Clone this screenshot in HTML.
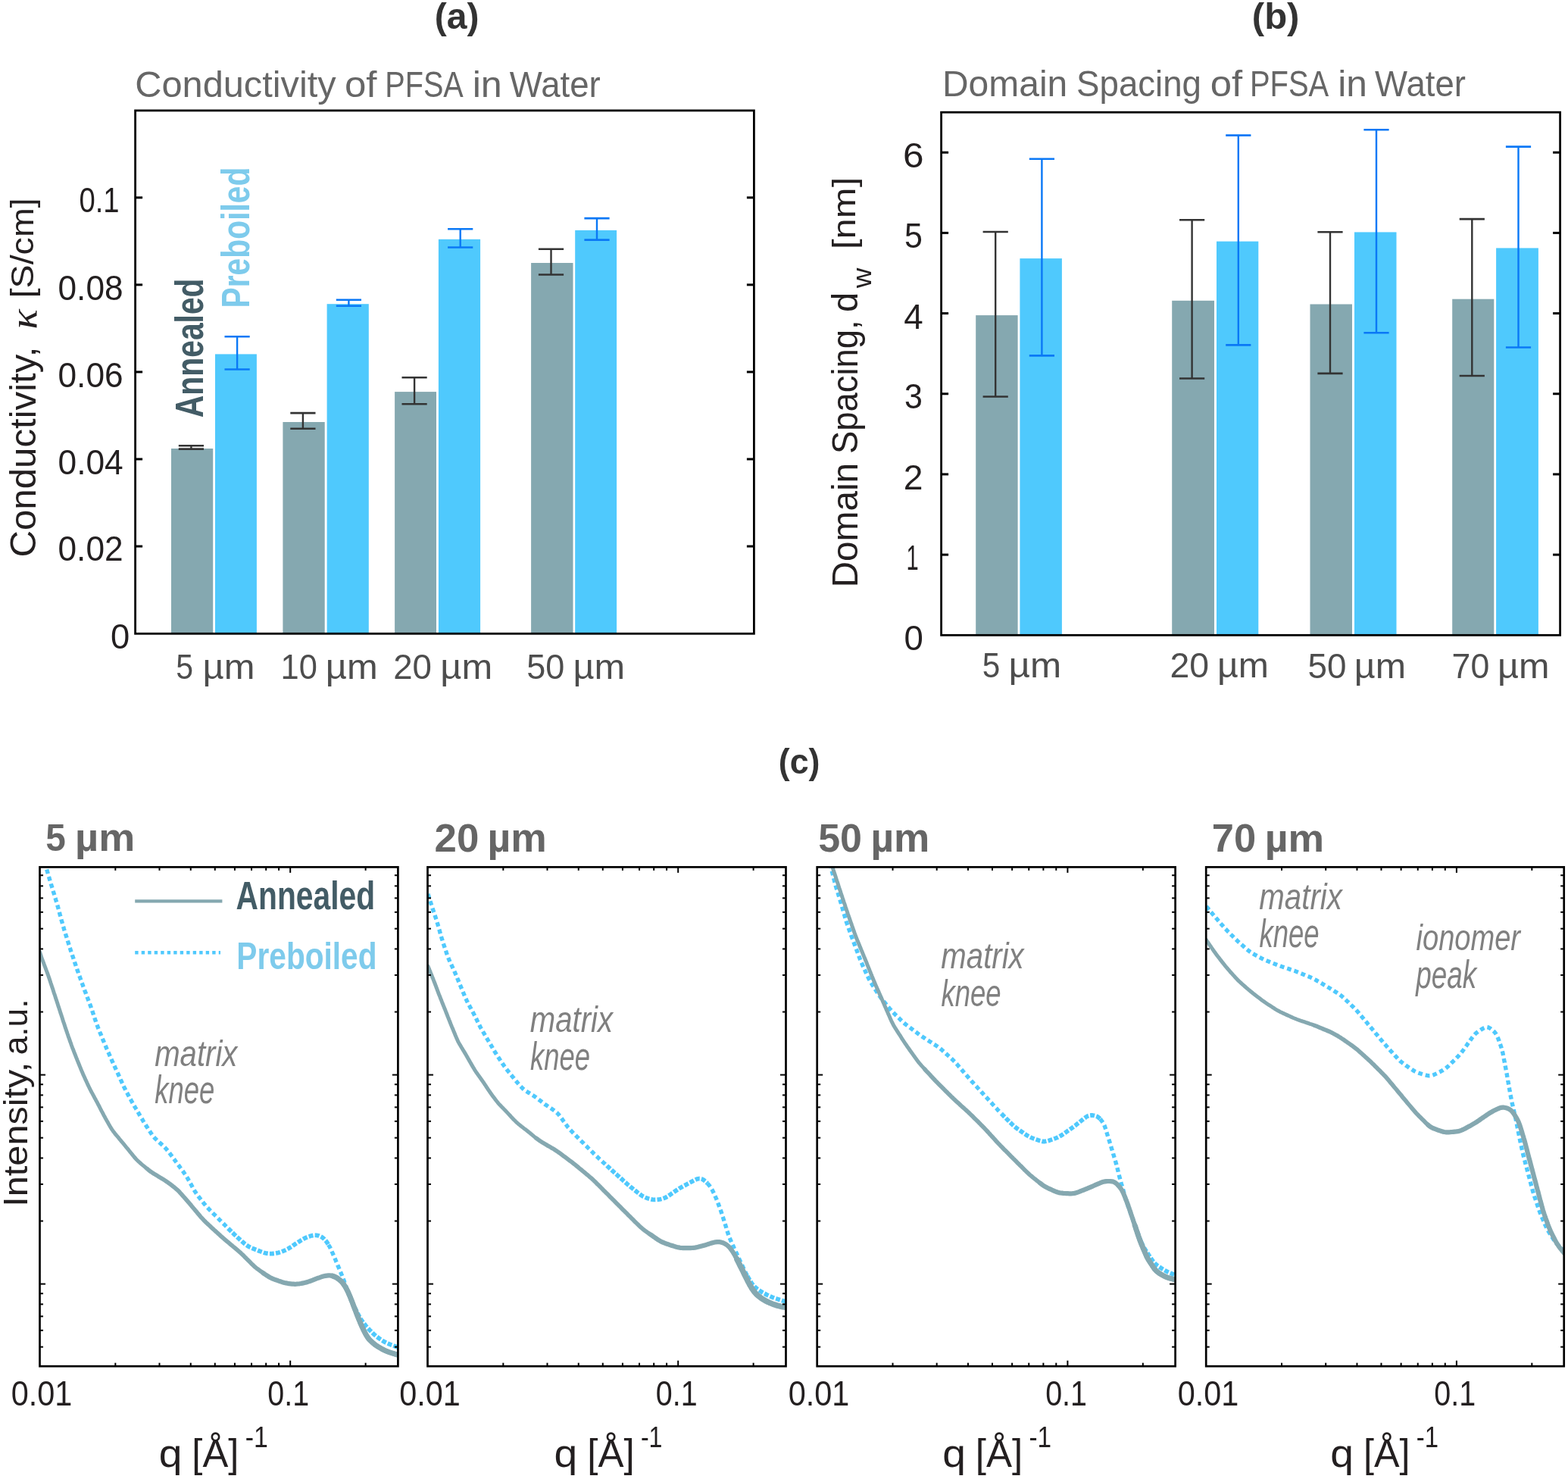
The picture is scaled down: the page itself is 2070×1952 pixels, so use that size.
<!DOCTYPE html>
<html><head><meta charset="utf-8"><title>PFSA figure</title>
<style>html,body{margin:0;padding:0;background:#fff;}svg{display:block;}text{font-kerning:normal;}</style></head><body>
<svg width="2070" height="1952" viewBox="0 0 2070 1952">
<rect x="0" y="0" width="2070" height="1952" fill="#ffffff"/>
<rect x="226" y="592" width="55.2" height="244.3" fill="#85a8b0"/>
<rect x="284" y="467.4" width="54.9" height="368.9" fill="#4fc9fd"/>
<rect x="373.4" y="557" width="55.3" height="279.3" fill="#85a8b0"/>
<rect x="431.6" y="401.2" width="55.2" height="435.1" fill="#4fc9fd"/>
<rect x="521.1" y="517.1" width="54.9" height="319.2" fill="#85a8b0"/>
<rect x="578.9" y="315.8" width="55.2" height="520.5" fill="#4fc9fd"/>
<rect x="701.1" y="347" width="55.4" height="489.3" fill="#85a8b0"/>
<rect x="759.2" y="303.9" width="54.9" height="532.4" fill="#4fc9fd"/>
<line x1="252.4" y1="588.2" x2="252.4" y2="592.6" stroke="#333333" stroke-width="2.4"/>
<line x1="235.8" y1="588.2" x2="269" y2="588.2" stroke="#333333" stroke-width="2.6"/>
<line x1="235.8" y1="592.6" x2="269" y2="592.6" stroke="#333333" stroke-width="2.6"/>
<line x1="313.1" y1="444.2" x2="313.1" y2="487.5" stroke="#0a78f6" stroke-width="2.4"/>
<line x1="296.5" y1="444.2" x2="329.7" y2="444.2" stroke="#0a78f6" stroke-width="2.6"/>
<line x1="296.5" y1="487.5" x2="329.7" y2="487.5" stroke="#0a78f6" stroke-width="2.6"/>
<line x1="399.9" y1="545.1" x2="399.9" y2="565.8" stroke="#333333" stroke-width="2.4"/>
<line x1="383.3" y1="545.1" x2="416.5" y2="545.1" stroke="#333333" stroke-width="2.6"/>
<line x1="383.3" y1="565.8" x2="416.5" y2="565.8" stroke="#333333" stroke-width="2.6"/>
<line x1="460.4" y1="395.8" x2="460.4" y2="403.7" stroke="#0a78f6" stroke-width="2.4"/>
<line x1="443.8" y1="395.8" x2="477" y2="395.8" stroke="#0a78f6" stroke-width="2.6"/>
<line x1="443.8" y1="403.7" x2="477" y2="403.7" stroke="#0a78f6" stroke-width="2.6"/>
<line x1="547.1" y1="498.3" x2="547.1" y2="533.3" stroke="#333333" stroke-width="2.4"/>
<line x1="530.5" y1="498.3" x2="563.7" y2="498.3" stroke="#333333" stroke-width="2.6"/>
<line x1="530.5" y1="533.3" x2="563.7" y2="533.3" stroke="#333333" stroke-width="2.6"/>
<line x1="607.7" y1="302.2" x2="607.7" y2="326.5" stroke="#0a78f6" stroke-width="2.4"/>
<line x1="591.1" y1="302.2" x2="624.3" y2="302.2" stroke="#0a78f6" stroke-width="2.6"/>
<line x1="591.1" y1="326.5" x2="624.3" y2="326.5" stroke="#0a78f6" stroke-width="2.6"/>
<line x1="727.5" y1="328.7" x2="727.5" y2="362.5" stroke="#333333" stroke-width="2.4"/>
<line x1="710.9" y1="328.7" x2="744.1" y2="328.7" stroke="#333333" stroke-width="2.6"/>
<line x1="710.9" y1="362.5" x2="744.1" y2="362.5" stroke="#333333" stroke-width="2.6"/>
<line x1="788" y1="288.1" x2="788" y2="316.6" stroke="#0a78f6" stroke-width="2.4"/>
<line x1="771.4" y1="288.1" x2="804.6" y2="288.1" stroke="#0a78f6" stroke-width="2.6"/>
<line x1="771.4" y1="316.6" x2="804.6" y2="316.6" stroke="#0a78f6" stroke-width="2.6"/>
<line x1="178.6" y1="721.04" x2="188.1" y2="721.04" stroke="#000000" stroke-width="3"/>
<line x1="985.9" y1="721.04" x2="995.4" y2="721.04" stroke="#000000" stroke-width="3"/>
<line x1="178.6" y1="605.98" x2="188.1" y2="605.98" stroke="#000000" stroke-width="3"/>
<line x1="985.9" y1="605.98" x2="995.4" y2="605.98" stroke="#000000" stroke-width="3"/>
<line x1="178.6" y1="490.92" x2="188.1" y2="490.92" stroke="#000000" stroke-width="3"/>
<line x1="985.9" y1="490.92" x2="995.4" y2="490.92" stroke="#000000" stroke-width="3"/>
<line x1="178.6" y1="375.86" x2="188.1" y2="375.86" stroke="#000000" stroke-width="3"/>
<line x1="985.9" y1="375.86" x2="995.4" y2="375.86" stroke="#000000" stroke-width="3"/>
<line x1="178.6" y1="260.8" x2="188.1" y2="260.8" stroke="#000000" stroke-width="3"/>
<line x1="985.9" y1="260.8" x2="995.4" y2="260.8" stroke="#000000" stroke-width="3"/>
<rect x="178.6" y="145.9" width="816.8" height="690.4" fill="none" stroke="#000000" stroke-width="2.8"/>
<rect x="1288.2" y="416.1" width="55.4" height="422.2" fill="#85a8b0"/>
<rect x="1346.4" y="341.1" width="55.5" height="497.2" fill="#4fc9fd"/>
<rect x="1547.2" y="396.8" width="55.8" height="441.5" fill="#85a8b0"/>
<rect x="1606" y="318.6" width="55.3" height="519.7" fill="#4fc9fd"/>
<rect x="1729.5" y="401.5" width="55.5" height="436.8" fill="#85a8b0"/>
<rect x="1788" y="306.4" width="55.5" height="531.9" fill="#4fc9fd"/>
<rect x="1917.2" y="394.7" width="55.1" height="443.6" fill="#85a8b0"/>
<rect x="1975.1" y="327.4" width="55.8" height="510.9" fill="#4fc9fd"/>
<line x1="1314.2" y1="306" x2="1314.2" y2="523.5" stroke="#333333" stroke-width="2.4"/>
<line x1="1297.6" y1="306" x2="1330.8" y2="306" stroke="#333333" stroke-width="2.6"/>
<line x1="1297.6" y1="523.5" x2="1330.8" y2="523.5" stroke="#333333" stroke-width="2.6"/>
<line x1="1375.4" y1="209.8" x2="1375.4" y2="469.4" stroke="#0a78f6" stroke-width="2.4"/>
<line x1="1358.8" y1="209.8" x2="1392" y2="209.8" stroke="#0a78f6" stroke-width="2.6"/>
<line x1="1358.8" y1="469.4" x2="1392" y2="469.4" stroke="#0a78f6" stroke-width="2.6"/>
<line x1="1573.6" y1="290.2" x2="1573.6" y2="499.5" stroke="#333333" stroke-width="2.4"/>
<line x1="1557" y1="290.2" x2="1590.2" y2="290.2" stroke="#333333" stroke-width="2.6"/>
<line x1="1557" y1="499.5" x2="1590.2" y2="499.5" stroke="#333333" stroke-width="2.6"/>
<line x1="1634.8" y1="178.6" x2="1634.8" y2="455.4" stroke="#0a78f6" stroke-width="2.4"/>
<line x1="1618.2" y1="178.6" x2="1651.4" y2="178.6" stroke="#0a78f6" stroke-width="2.6"/>
<line x1="1618.2" y1="455.4" x2="1651.4" y2="455.4" stroke="#0a78f6" stroke-width="2.6"/>
<line x1="1756" y1="306.2" x2="1756" y2="492.9" stroke="#333333" stroke-width="2.4"/>
<line x1="1739.4" y1="306.2" x2="1772.6" y2="306.2" stroke="#333333" stroke-width="2.6"/>
<line x1="1739.4" y1="492.9" x2="1772.6" y2="492.9" stroke="#333333" stroke-width="2.6"/>
<line x1="1817" y1="171.3" x2="1817" y2="439.2" stroke="#0a78f6" stroke-width="2.4"/>
<line x1="1800.4" y1="171.3" x2="1833.6" y2="171.3" stroke="#0a78f6" stroke-width="2.6"/>
<line x1="1800.4" y1="439.2" x2="1833.6" y2="439.2" stroke="#0a78f6" stroke-width="2.6"/>
<line x1="1943.3" y1="289.1" x2="1943.3" y2="496" stroke="#333333" stroke-width="2.4"/>
<line x1="1926.7" y1="289.1" x2="1959.9" y2="289.1" stroke="#333333" stroke-width="2.6"/>
<line x1="1926.7" y1="496" x2="1959.9" y2="496" stroke="#333333" stroke-width="2.6"/>
<line x1="2004.5" y1="193.6" x2="2004.5" y2="458.5" stroke="#0a78f6" stroke-width="2.4"/>
<line x1="1987.9" y1="193.6" x2="2021.1" y2="193.6" stroke="#0a78f6" stroke-width="2.6"/>
<line x1="1987.9" y1="458.5" x2="2021.1" y2="458.5" stroke="#0a78f6" stroke-width="2.6"/>
<line x1="1242.6" y1="732.12" x2="1252.1" y2="732.12" stroke="#000000" stroke-width="3"/>
<line x1="2050.1" y1="732.12" x2="2059.6" y2="732.12" stroke="#000000" stroke-width="3"/>
<line x1="1242.6" y1="625.94" x2="1252.1" y2="625.94" stroke="#000000" stroke-width="3"/>
<line x1="2050.1" y1="625.94" x2="2059.6" y2="625.94" stroke="#000000" stroke-width="3"/>
<line x1="1242.6" y1="519.76" x2="1252.1" y2="519.76" stroke="#000000" stroke-width="3"/>
<line x1="2050.1" y1="519.76" x2="2059.6" y2="519.76" stroke="#000000" stroke-width="3"/>
<line x1="1242.6" y1="413.58" x2="1252.1" y2="413.58" stroke="#000000" stroke-width="3"/>
<line x1="2050.1" y1="413.58" x2="2059.6" y2="413.58" stroke="#000000" stroke-width="3"/>
<line x1="1242.6" y1="307.4" x2="1252.1" y2="307.4" stroke="#000000" stroke-width="3"/>
<line x1="2050.1" y1="307.4" x2="2059.6" y2="307.4" stroke="#000000" stroke-width="3"/>
<line x1="1242.6" y1="201.22" x2="1252.1" y2="201.22" stroke="#000000" stroke-width="3"/>
<line x1="2050.1" y1="201.22" x2="2059.6" y2="201.22" stroke="#000000" stroke-width="3"/>
<rect x="1242.6" y="148.2" width="817" height="690.1" fill="none" stroke="#000000" stroke-width="2.8"/>
<clipPath id="clip0"><rect x="52.5" y="1144.4" width="472.9" height="658.8"/></clipPath>
<g clip-path="url(#clip0)" fill="none" stroke-linejoin="round">
<path d="M59.5,1138.0 L59.9,1140.0 L60.3,1141.9 L60.8,1143.9 L61.3,1145.8 L61.8,1147.7 L62.3,1149.7 L62.9,1151.6 L63.4,1153.5 L64.0,1155.4 L64.6,1157.3 L65.1,1159.3 L65.7,1161.2 L66.3,1163.1 L66.9,1165.0 L67.4,1166.9 L68.0,1168.8 L68.6,1170.8 L69.2,1172.7 L69.8,1174.6 L70.3,1176.5 L70.9,1178.4 L71.5,1180.3 L72.1,1182.2 L72.7,1184.2 L73.3,1186.1 L73.8,1188.0 L74.4,1189.9 L75.0,1191.8 L75.5,1193.7 L76.1,1195.7 L76.6,1197.6 L77.2,1199.5 L77.7,1201.4 L78.2,1203.4 L78.7,1205.3 L79.2,1207.2 L79.8,1209.2 L80.3,1211.1 L80.8,1213.0 L81.3,1215.0 L81.9,1216.9 L82.4,1218.8 L82.9,1220.8 L83.5,1222.7 L84.1,1224.6 L84.6,1226.5 L85.2,1228.4 L85.8,1230.3 L86.4,1232.2 L87.0,1234.2 L87.6,1236.1 L88.2,1238.0 L88.8,1239.9 L89.4,1241.8 L90.0,1243.7 L90.6,1245.6 L91.2,1247.5 L91.8,1249.4 L92.4,1251.3 L93.0,1253.2 L93.6,1255.1 L94.3,1257.0 L94.9,1258.9 L95.5,1260.8 L96.2,1262.7 L96.8,1264.6 L97.4,1266.5 L98.1,1268.4 L98.7,1270.3 L99.3,1272.2 L100.0,1274.1 L100.6,1276.0 L101.3,1277.9 L101.9,1279.8 L102.6,1281.7 L103.3,1283.6 L103.9,1285.4 L104.6,1287.3 L105.3,1289.2 L106.0,1291.1 L106.6,1293.0 L107.3,1294.9 L108.0,1296.7 L108.7,1298.6 L109.4,1300.5 L110.0,1302.4 L110.7,1304.3 L111.4,1306.1 L112.1,1308.0 L112.9,1309.9 L113.6,1311.7 L114.3,1313.6 L115.0,1315.5 L115.7,1317.4 L116.4,1319.2 L117.1,1321.1 L117.8,1323.0 L118.5,1324.8 L119.2,1326.7 L119.9,1328.6 L120.5,1330.5 L121.2,1332.4 L121.8,1334.3 L122.5,1336.2 L123.1,1338.1 L123.7,1340.0 L124.4,1341.9 L125.0,1343.8 L125.6,1345.7 L126.3,1347.6 L126.9,1349.5 L127.6,1351.3 L128.3,1353.2 L129.0,1355.1 L129.7,1357.0 L130.4,1358.8 L131.2,1360.7 L131.9,1362.5 L132.7,1364.4 L133.5,1366.2 L134.2,1368.1 L135.0,1369.9 L135.7,1371.8 L136.5,1373.6 L137.3,1375.5 L138.0,1377.3 L138.8,1379.2 L139.6,1381.0 L140.3,1382.9 L141.1,1384.7 L141.9,1386.5 L142.7,1388.4 L143.6,1390.2 L144.4,1392.0 L145.2,1393.9 L146.0,1395.7 L146.8,1397.5 L147.6,1399.3 L148.4,1401.2 L149.3,1403.0 L150.1,1404.8 L150.9,1406.6 L151.8,1408.5 L152.6,1410.3 L153.4,1412.1 L154.3,1413.9 L155.1,1415.7 L155.9,1417.5 L156.8,1419.4 L157.6,1421.2 L158.4,1423.0 L159.2,1424.8 L160.1,1426.7 L160.9,1428.5 L161.7,1430.3 L162.6,1432.1 L163.4,1433.9 L164.3,1435.7 L165.2,1437.5 L166.1,1439.3 L167.0,1441.1 L168.0,1442.8 L168.9,1444.6 L169.9,1446.3 L170.8,1448.1 L171.8,1449.9 L172.8,1451.6 L173.7,1453.4 L174.7,1455.1 L175.7,1456.8 L176.7,1458.6 L177.7,1460.3 L178.7,1462.0 L179.7,1463.7 L180.8,1465.5 L181.8,1467.2 L182.8,1468.9 L183.8,1470.6 L184.8,1472.4 L185.8,1474.1 L186.8,1475.8 L187.9,1477.5 L188.9,1479.3 L189.9,1481.0 L191.0,1482.7 L192.1,1484.4 L193.1,1486.0 L194.2,1487.7 L195.3,1489.4 L196.4,1491.1 L197.5,1492.8 L198.6,1494.4 L199.7,1496.1 L200.8,1497.7 L202.0,1499.3 L203.3,1500.9 L204.6,1502.3 L206.0,1503.7 L207.4,1505.1 L208.9,1506.4 L210.4,1507.8 L211.9,1509.1 L213.4,1510.4 L214.9,1511.8 L216.3,1513.1 L217.7,1514.5 L219.1,1516.0 L220.4,1517.5 L221.7,1519.1 L222.9,1520.6 L224.1,1522.2 L225.3,1523.8 L226.5,1525.4 L227.7,1527.0 L228.9,1528.6 L230.1,1530.2 L231.2,1531.9 L232.4,1533.5 L233.6,1535.1 L234.8,1536.7 L236.0,1538.3 L237.2,1539.9 L238.3,1541.6 L239.5,1543.2 L240.7,1544.8 L241.9,1546.4 L243.0,1548.0 L244.2,1549.7 L245.3,1551.3 L246.4,1553.0 L247.4,1554.7 L248.4,1556.4 L249.4,1558.2 L250.4,1559.9 L251.3,1561.7 L252.3,1563.4 L253.3,1565.2 L254.2,1566.9 L255.2,1568.7 L256.2,1570.4 L257.2,1572.1 L258.3,1573.8 L259.4,1575.5 L260.6,1577.1 L261.7,1578.7 L262.9,1580.3 L264.2,1581.9 L265.4,1583.5 L266.6,1585.0 L267.9,1586.6 L269.1,1588.2 L270.4,1589.7 L271.7,1591.3 L273.0,1592.8 L274.3,1594.2 L275.7,1595.7 L277.1,1597.1 L278.5,1598.5 L279.9,1599.9 L281.3,1601.3 L282.8,1602.8 L284.2,1604.2 L285.6,1605.6 L287.0,1607.0 L288.4,1608.4 L289.8,1609.8 L291.3,1611.3 L292.7,1612.7 L294.1,1614.1 L295.5,1615.5 L296.9,1616.9 L298.3,1618.3 L299.7,1619.7 L301.2,1621.2" stroke="#4fc9fd" stroke-width="5.4" stroke-dasharray="5.8 4"/>
<path d="M301.2,1621.2 L302.6,1622.6 L304.0,1624.0 L305.4,1625.4 L306.8,1626.8 L308.3,1628.2 L309.7,1629.6 L311.2,1630.9 L312.7,1632.3 L314.1,1633.6 L315.6,1635.0 L317.1,1636.3 L318.6,1637.6 L320.1,1639.0 L321.6,1640.3 L323.1,1641.6 L324.7,1642.8 L326.3,1643.9 L327.9,1645.0 L329.7,1645.9 L331.5,1646.8 L333.3,1647.6 L335.1,1648.3 L337.0,1649.0 L338.9,1649.7 L340.7,1650.5 L342.6,1651.2 L344.5,1651.9 L346.4,1652.6 L348.2,1653.2 L350.1,1653.7 L352.0,1654.2 L354.0,1654.5 L355.9,1654.6 L357.9,1654.6 L359.9,1654.5 L361.9,1654.3 L363.8,1654.1 L365.8,1653.7 L367.7,1653.3 L369.6,1652.7 L371.5,1652.1 L373.3,1651.4 L375.2,1650.6 L377.0,1649.8 L378.8,1648.9 L380.5,1648.0 L382.2,1646.9 L383.9,1645.9 L385.6,1644.8 L387.2,1643.6 L388.9,1642.5 L390.5,1641.4 L392.2,1640.3 L393.9,1639.2 L395.6,1638.2 L397.3,1637.1 L399.0,1636.1 L400.7,1635.1 L402.5,1634.2 L404.3,1633.3 L406.1,1632.5 L408.0,1631.9 L409.9,1631.3 L411.8,1630.8 L413.7,1630.4 L415.6,1630.2 L417.5,1630.3 L419.3,1630.6 L421.2,1631.0 L422.9,1631.7 L424.6,1632.6 L426.2,1633.7 L427.7,1634.9 L429.0,1636.3 L430.3,1637.8 L431.5,1639.4 L432.6,1641.1 L433.6,1642.8" stroke="#4fc9fd" stroke-width="5.800000000000001" stroke-dasharray="6 2.2"/>
<path d="M433.6,1642.8 L434.6,1644.5 L435.6,1646.2 L436.4,1648.0 L437.3,1649.8 L438.1,1651.7 L438.9,1653.5 L439.7,1655.3 L440.5,1657.2 L441.3,1659.0 L442.1,1660.8 L442.9,1662.7 L443.6,1664.5 L444.4,1666.4 L445.2,1668.2 L445.9,1670.1 L446.7,1671.9 L447.5,1673.8 L448.2,1675.6 L449.0,1677.5 L449.8,1679.3 L450.5,1681.2 L451.3,1683.0 L452.0,1684.9 L452.8,1686.7 L453.5,1688.6 L454.2,1690.5 L454.8,1692.4 L455.5,1694.3 L456.2,1696.1 L456.9,1698.0 L457.5,1699.9 L458.2,1701.8 L458.9,1703.6 L459.7,1705.5 L460.4,1707.4 L461.1,1709.2 L461.9,1711.1 L462.6,1712.9 L463.4,1714.8 L464.2,1716.6 L464.9,1718.5 L465.7,1720.3 L466.6,1722.1 L467.4,1723.9 L468.3,1725.7" stroke="#4fc9fd" stroke-width="5.4" stroke-dasharray="5.8 4"/>
<path d="M468.3,1725.7 L469.2,1727.5 L470.1,1729.3 L470.9,1731.1 L471.8,1732.9 L472.7,1734.7 L473.7,1736.5 L474.6,1738.2 L475.6,1739.9 L476.7,1741.6 L477.8,1743.2 L479.0,1744.9 L480.2,1746.4 L481.5,1748.0 L482.7,1749.6 L484.0,1751.1 L485.4,1752.6 L486.7,1754.0 L488.1,1755.5 L489.5,1756.9 L490.9,1758.3 L492.3,1759.7 L493.8,1761.1 L495.3,1762.4 L496.8,1763.7 L498.4,1764.9 L500.0,1766.1 L501.6,1767.2 L503.3,1768.3 L505.0,1769.4 L506.7,1770.4 L508.4,1771.4 L510.2,1772.3 L512.0,1773.1 L513.8,1773.9 L515.7,1774.7 L517.6,1775.4 L519.4,1776.1 L521.3,1776.8 L523.2,1777.5 L525.1,1778.2 L526.0,1778.5" stroke="#4fc9fd" stroke-width="5.800000000000001" stroke-dasharray="6 2.2"/>
<path d="M52.3,1256.0 L52.9,1257.9 L53.6,1259.8 L54.2,1261.7 L54.8,1263.6 L55.5,1265.5 L56.2,1267.4 L56.9,1269.2 L57.6,1271.1 L58.3,1273.0 L59.0,1274.9 L59.7,1276.7 L60.4,1278.6 L61.1,1280.5 L61.8,1282.3 L62.5,1284.2 L63.2,1286.1 L63.9,1288.0 L64.5,1289.9 L65.2,1291.8 L65.8,1293.7 L66.4,1295.6 L67.0,1297.5 L67.7,1299.4 L68.3,1301.3 L68.9,1303.2 L69.6,1305.1 L70.2,1307.0 L70.8,1308.9 L71.4,1310.8 L72.1,1312.7 L72.7,1314.6 L73.3,1316.5 L73.9,1318.4 L74.6,1320.3 L75.2,1322.2 L75.8,1324.1 L76.4,1326.0 L77.0,1327.9 L77.7,1329.8 L78.3,1331.7 L78.9,1333.6 L79.5,1335.5 L80.1,1337.4 L80.8,1339.3 L81.4,1341.2 L82.0,1343.1 L82.6,1345.0 L83.2,1346.9 L83.8,1348.8 L84.5,1350.7 L85.1,1352.6 L85.7,1354.5 L86.3,1356.4 L87.0,1358.3 L87.6,1360.2 L88.3,1362.1 L88.9,1364.0 L89.6,1365.9 L90.2,1367.8 L90.9,1369.7 L91.6,1371.6 L92.2,1373.5 L92.9,1375.3 L93.6,1377.2 L94.2,1379.1 L94.9,1381.0 L95.6,1382.9 L96.4,1384.7 L97.1,1386.6 L97.8,1388.5 L98.5,1390.3 L99.3,1392.2 L100.0,1394.1 L100.7,1395.9 L101.5,1397.8 L102.2,1399.6 L103.0,1401.5 L103.7,1403.3 L104.5,1405.2 L105.2,1407.0 L106.0,1408.9 L106.7,1410.7 L107.5,1412.6 L108.3,1414.4 L109.1,1416.3 L109.8,1418.1 L110.7,1420.0 L111.5,1421.8 L112.3,1423.6 L113.1,1425.4 L114.0,1427.2 L114.8,1429.0 L115.7,1430.9 L116.5,1432.7 L117.4,1434.5 L118.3,1436.3 L119.2,1438.1 L120.1,1439.8 L121.0,1441.6 L122.0,1443.4 L122.9,1445.1 L123.9,1446.9 L124.8,1448.7 L125.8,1450.4 L126.7,1452.2 L127.7,1453.9 L128.6,1455.7 L129.5,1457.5 L130.5,1459.3 L131.4,1461.0 L132.3,1462.8 L133.2,1464.6 L134.1,1466.4 L135.1,1468.1 L136.0,1469.9 L136.9,1471.7 L137.9,1473.4 L138.8,1475.2 L139.8,1476.9 L140.8,1478.7 L141.8,1480.4 L142.8,1482.2 L143.7,1483.9 L144.7,1485.6 L145.7,1487.4 L146.8,1489.1 L147.9,1490.8 L149.0,1492.4 L150.2,1494.0 L151.4,1495.6 L152.6,1497.1 L153.9,1498.7 L155.2,1500.2 L156.5,1501.7 L157.8,1503.3 L159.1,1504.8 L160.3,1506.4 L161.6,1507.9 L162.9,1509.4 L164.2,1511.0 L165.4,1512.5 L166.7,1514.1 L168.0,1515.6 L169.3,1517.2 L170.5,1518.7 L171.8,1520.3 L173.0,1521.8 L174.3,1523.4 L175.5,1524.9 L176.8,1526.5 L178.1,1528.0 L179.4,1529.5 L180.8,1530.9 L182.2,1532.3 L183.7,1533.7 L185.2,1535.0 L186.7,1536.3 L188.2,1537.6 L189.8,1538.9 L191.3,1540.2 L192.8,1541.5" stroke="#85a8b0" stroke-width="5.0" stroke-linecap="round"/>
<path d="M194.4,1542.7 L195.9,1544.0 L197.5,1545.2 L199.1,1546.4 L200.8,1547.5 L202.4,1548.6 L204.1,1549.7 L205.8,1550.7 L207.5,1551.7 L209.3,1552.8 L211.0,1553.8 L212.7,1554.8 L214.4,1555.9 L216.1,1556.9 L217.8,1558.0 L219.4,1559.1 L221.1,1560.3 L222.7,1561.4 L224.3,1562.6 L225.9,1563.8 L227.5,1565.0 L229.1,1566.3 L230.7,1567.5 L232.2,1568.8 L233.7,1570.1 L235.2,1571.4 L236.6,1572.8 L237.9,1574.3 L239.3,1575.8 L240.6,1577.3 L241.9,1578.8 L243.3,1580.3 L244.6,1581.8 L245.9,1583.3 L247.2,1584.8 L248.5,1586.3 L249.8,1587.8 L251.1,1589.4 L252.4,1590.9 L253.6,1592.4 L254.9,1594.0 L256.2,1595.5 L257.5,1597.1 L258.8,1598.6 L260.0,1600.1 L261.3,1601.7 L262.6,1603.2 L263.9,1604.7 L265.2,1606.3 L266.5,1607.7 L267.9,1609.2 L269.3,1610.7 L270.7,1612.1 L272.1,1613.5 L273.6,1614.8 L275.0,1616.2 L276.5,1617.5 L278.0,1618.9 L279.4,1620.3 L280.9,1621.6 L282.4,1623.0 L283.9,1624.3 L285.3,1625.7 L286.8,1627.0 L288.3,1628.4 L289.8,1629.7 L291.2,1631.1 L292.7,1632.4 L294.2,1633.7 L295.7,1635.0 L297.3,1636.3 L298.8,1637.6 L300.3,1638.9 L301.9,1640.2 L303.4,1641.5 L305.0,1642.8 L306.5,1644.0 L308.0,1645.3 L309.6,1646.6 L311.1,1647.9 L312.6,1649.2 L314.2,1650.5 L315.7,1651.8 L317.2,1653.1 L318.6,1654.5 L320.1,1655.8 L321.5,1657.2 L322.9,1658.7 L324.3,1660.1 L325.7,1661.5 L327.2,1662.9 L328.6,1664.3 L330.0,1665.7 L331.4,1667.2 L332.8,1668.6 L334.3,1669.9 L335.7,1671.3 L337.2,1672.6 L338.8,1673.9 L340.4,1675.1 L342.0,1676.3 L343.6,1677.4 L345.2,1678.6" stroke="#85a8b0" stroke-width="5.6" stroke-linecap="round"/>
<path d="M346.9,1679.7 L348.5,1680.9 L350.1,1682.0 L351.8,1683.1 L353.5,1684.2 L355.2,1685.3 L356.9,1686.2 L358.7,1687.1 L360.5,1687.9 L362.4,1688.6 L364.3,1689.3 L366.1,1689.9 L368.0,1690.6 L369.9,1691.2 L371.8,1691.9 L373.7,1692.5 L375.6,1693.0 L377.6,1693.4 L379.5,1693.8 L381.5,1694.2 L383.5,1694.4 L385.5,1694.6 L387.4,1694.7 L389.4,1694.8 L391.4,1694.7 L393.4,1694.5 L395.3,1694.3 L397.3,1694.0 L399.3,1693.6 L401.2,1693.2 L403.2,1692.8 L405.1,1692.2 L407.0,1691.6 L408.9,1691.0 L410.7,1690.3 L412.6,1689.6 L414.5,1688.8 L416.3,1688.1 L418.2,1687.4 L420.1,1686.7 L422.0,1686.1 L423.9,1685.4 L425.8,1684.8 L427.7,1684.3 L429.6,1683.9 L431.6,1683.6 L433.5,1683.4 L435.4,1683.4 L437.3,1683.6 L439.2,1684.1 L441.0,1684.7 L442.8,1685.5 L444.5,1686.4 L446.1,1687.5 L447.7,1688.7 L449.2,1690.0 L450.6,1691.3 L451.9,1692.8 L453.2,1694.3 L454.3,1696.0 L455.4,1697.6 L456.4,1699.3 L457.4,1701.1 L458.3,1702.8 L459.2,1704.6 L460.0,1706.4 L460.8,1708.3 L461.6,1710.1 L462.4,1712.0 L463.1,1713.8 L463.8,1715.7 L464.6,1717.5 L465.3,1719.4 L466.0,1721.3 L466.7,1723.2 L467.4,1725.0 L468.1,1726.9 L468.9,1728.8 L469.6,1730.6 L470.3,1732.5 L471.0,1734.4 L471.7,1736.2 L472.5,1738.1 L473.2,1739.9 L474.0,1741.8 L474.8,1743.6 L475.5,1745.5 L476.3,1747.3 L477.1,1749.2 L477.9,1751.0 L478.8,1752.8 L479.6,1754.6 L480.5,1756.4 L481.4,1758.2 L482.3,1760.0 L483.3,1761.7 L484.3,1763.4 L485.4,1765.1 L486.5,1766.6 L487.8,1768.1 L489.2,1769.5 L490.7,1770.9 L492.1,1772.2 L493.7,1773.5 L495.2,1774.8 L496.8,1775.9 L498.5,1777.0 L500.2,1778.1 L501.9,1779.1 L503.6,1780.1 L505.4,1781.0 L507.2,1781.9 L509.0,1782.8 L510.8,1783.5 L512.7,1784.3 L514.5,1784.9 L516.4,1785.5 L518.3,1786.1 L520.3,1786.7 L522.2,1787.3 L524.1,1787.9 L526.0,1788.5" stroke="#85a8b0" stroke-width="6.2" stroke-linecap="round"/>
<path d="M439.2,1684.1 L441.0,1684.7 L442.8,1685.5 L444.5,1686.4 L446.1,1687.5 L447.7,1688.7 L449.2,1690.0 L450.6,1691.3 L451.9,1692.8 L453.2,1694.3 L454.3,1696.0 L455.4,1697.6 L456.4,1699.3 L457.4,1701.1 L458.3,1702.8 L459.2,1704.6 L460.0,1706.4 L460.8,1708.3 L461.6,1710.1 L462.4,1712.0 L463.1,1713.8 L463.8,1715.7 L464.6,1717.5 L465.3,1719.4 L466.0,1721.3 L466.7,1723.2 L467.4,1725.0 L468.1,1726.9 L468.9,1728.8 L469.6,1730.6 L470.3,1732.5 L471.0,1734.4 L471.7,1736.2 L472.5,1738.1 L473.2,1739.9 L474.0,1741.8 L474.8,1743.6 L475.5,1745.5 L476.3,1747.3 L477.1,1749.2 L477.9,1751.0 L478.8,1752.8 L479.6,1754.6 L480.5,1756.4 L481.4,1758.2 L482.3,1760.0 L483.3,1761.7 L484.3,1763.4 L485.4,1765.1 L486.5,1766.6 L487.8,1768.1 L489.2,1769.5 L490.7,1770.9 L492.1,1772.2 L493.7,1773.5 L495.2,1774.8 L496.8,1775.9 L498.5,1777.0 L500.2,1778.1 L501.9,1779.1 L503.6,1780.1 L505.4,1781.0 L507.2,1781.9 L509.0,1782.8 L510.8,1783.5 L512.7,1784.3 L514.5,1784.9 L516.4,1785.5 L518.3,1786.1 L520.3,1786.7 L522.2,1787.3 L524.1,1787.9 L526.0,1788.5" stroke="#85a8b0" stroke-width="7.0" stroke-linecap="round"/>
</g>
<line x1="152.33" y1="1803.2" x2="152.33" y2="1798.7" stroke="#000000" stroke-width="2"/>
<line x1="152.33" y1="1144.4" x2="152.33" y2="1148.9" stroke="#000000" stroke-width="2"/>
<line x1="210.49" y1="1803.2" x2="210.49" y2="1798.7" stroke="#000000" stroke-width="2"/>
<line x1="210.49" y1="1144.4" x2="210.49" y2="1148.9" stroke="#000000" stroke-width="2"/>
<line x1="251.76" y1="1803.2" x2="251.76" y2="1798.7" stroke="#000000" stroke-width="2"/>
<line x1="251.76" y1="1144.4" x2="251.76" y2="1148.9" stroke="#000000" stroke-width="2"/>
<line x1="283.77" y1="1803.2" x2="283.77" y2="1798.7" stroke="#000000" stroke-width="2"/>
<line x1="283.77" y1="1144.4" x2="283.77" y2="1148.9" stroke="#000000" stroke-width="2"/>
<line x1="309.92" y1="1803.2" x2="309.92" y2="1798.7" stroke="#000000" stroke-width="2"/>
<line x1="309.92" y1="1144.4" x2="309.92" y2="1148.9" stroke="#000000" stroke-width="2"/>
<line x1="332.04" y1="1803.2" x2="332.04" y2="1798.7" stroke="#000000" stroke-width="2"/>
<line x1="332.04" y1="1144.4" x2="332.04" y2="1148.9" stroke="#000000" stroke-width="2"/>
<line x1="351.19" y1="1803.2" x2="351.19" y2="1798.7" stroke="#000000" stroke-width="2"/>
<line x1="351.19" y1="1144.4" x2="351.19" y2="1148.9" stroke="#000000" stroke-width="2"/>
<line x1="368.09" y1="1803.2" x2="368.09" y2="1798.7" stroke="#000000" stroke-width="2"/>
<line x1="368.09" y1="1144.4" x2="368.09" y2="1148.9" stroke="#000000" stroke-width="2"/>
<line x1="383.2" y1="1803.2" x2="383.2" y2="1795.7" stroke="#000000" stroke-width="2"/>
<line x1="383.2" y1="1144.4" x2="383.2" y2="1151.9" stroke="#000000" stroke-width="2"/>
<line x1="482.63" y1="1803.2" x2="482.63" y2="1798.7" stroke="#000000" stroke-width="2"/>
<line x1="482.63" y1="1144.4" x2="482.63" y2="1148.9" stroke="#000000" stroke-width="2"/>
<line x1="52.5" y1="1418.6" x2="60" y2="1418.6" stroke="#000000" stroke-width="2"/>
<line x1="517.9" y1="1418.6" x2="525.4" y2="1418.6" stroke="#000000" stroke-width="2"/>
<line x1="52.5" y1="1694.6" x2="60" y2="1694.6" stroke="#000000" stroke-width="2"/>
<line x1="517.9" y1="1694.6" x2="525.4" y2="1694.6" stroke="#000000" stroke-width="2"/>
<line x1="52.5" y1="1777.68" x2="57" y2="1777.68" stroke="#000000" stroke-width="2"/>
<line x1="520.9" y1="1777.68" x2="525.4" y2="1777.68" stroke="#000000" stroke-width="2"/>
<line x1="52.5" y1="1755.83" x2="57" y2="1755.83" stroke="#000000" stroke-width="2"/>
<line x1="520.9" y1="1755.83" x2="525.4" y2="1755.83" stroke="#000000" stroke-width="2"/>
<line x1="52.5" y1="1737.35" x2="57" y2="1737.35" stroke="#000000" stroke-width="2"/>
<line x1="520.9" y1="1737.35" x2="525.4" y2="1737.35" stroke="#000000" stroke-width="2"/>
<line x1="52.5" y1="1721.35" x2="57" y2="1721.35" stroke="#000000" stroke-width="2"/>
<line x1="520.9" y1="1721.35" x2="525.4" y2="1721.35" stroke="#000000" stroke-width="2"/>
<line x1="52.5" y1="1707.23" x2="57" y2="1707.23" stroke="#000000" stroke-width="2"/>
<line x1="520.9" y1="1707.23" x2="525.4" y2="1707.23" stroke="#000000" stroke-width="2"/>
<line x1="52.5" y1="1611.52" x2="57" y2="1611.52" stroke="#000000" stroke-width="2"/>
<line x1="520.9" y1="1611.52" x2="525.4" y2="1611.52" stroke="#000000" stroke-width="2"/>
<line x1="52.5" y1="1562.91" x2="57" y2="1562.91" stroke="#000000" stroke-width="2"/>
<line x1="520.9" y1="1562.91" x2="525.4" y2="1562.91" stroke="#000000" stroke-width="2"/>
<line x1="52.5" y1="1528.43" x2="57" y2="1528.43" stroke="#000000" stroke-width="2"/>
<line x1="520.9" y1="1528.43" x2="525.4" y2="1528.43" stroke="#000000" stroke-width="2"/>
<line x1="52.5" y1="1501.68" x2="57" y2="1501.68" stroke="#000000" stroke-width="2"/>
<line x1="520.9" y1="1501.68" x2="525.4" y2="1501.68" stroke="#000000" stroke-width="2"/>
<line x1="52.5" y1="1479.83" x2="57" y2="1479.83" stroke="#000000" stroke-width="2"/>
<line x1="520.9" y1="1479.83" x2="525.4" y2="1479.83" stroke="#000000" stroke-width="2"/>
<line x1="52.5" y1="1461.35" x2="57" y2="1461.35" stroke="#000000" stroke-width="2"/>
<line x1="520.9" y1="1461.35" x2="525.4" y2="1461.35" stroke="#000000" stroke-width="2"/>
<line x1="52.5" y1="1445.35" x2="57" y2="1445.35" stroke="#000000" stroke-width="2"/>
<line x1="520.9" y1="1445.35" x2="525.4" y2="1445.35" stroke="#000000" stroke-width="2"/>
<line x1="52.5" y1="1431.23" x2="57" y2="1431.23" stroke="#000000" stroke-width="2"/>
<line x1="520.9" y1="1431.23" x2="525.4" y2="1431.23" stroke="#000000" stroke-width="2"/>
<line x1="52.5" y1="1335.52" x2="57" y2="1335.52" stroke="#000000" stroke-width="2"/>
<line x1="520.9" y1="1335.52" x2="525.4" y2="1335.52" stroke="#000000" stroke-width="2"/>
<line x1="52.5" y1="1286.91" x2="57" y2="1286.91" stroke="#000000" stroke-width="2"/>
<line x1="520.9" y1="1286.91" x2="525.4" y2="1286.91" stroke="#000000" stroke-width="2"/>
<line x1="52.5" y1="1252.43" x2="57" y2="1252.43" stroke="#000000" stroke-width="2"/>
<line x1="520.9" y1="1252.43" x2="525.4" y2="1252.43" stroke="#000000" stroke-width="2"/>
<line x1="52.5" y1="1225.68" x2="57" y2="1225.68" stroke="#000000" stroke-width="2"/>
<line x1="520.9" y1="1225.68" x2="525.4" y2="1225.68" stroke="#000000" stroke-width="2"/>
<line x1="52.5" y1="1203.83" x2="57" y2="1203.83" stroke="#000000" stroke-width="2"/>
<line x1="520.9" y1="1203.83" x2="525.4" y2="1203.83" stroke="#000000" stroke-width="2"/>
<line x1="52.5" y1="1185.35" x2="57" y2="1185.35" stroke="#000000" stroke-width="2"/>
<line x1="520.9" y1="1185.35" x2="525.4" y2="1185.35" stroke="#000000" stroke-width="2"/>
<line x1="52.5" y1="1169.35" x2="57" y2="1169.35" stroke="#000000" stroke-width="2"/>
<line x1="520.9" y1="1169.35" x2="525.4" y2="1169.35" stroke="#000000" stroke-width="2"/>
<line x1="52.5" y1="1155.23" x2="57" y2="1155.23" stroke="#000000" stroke-width="2"/>
<line x1="520.9" y1="1155.23" x2="525.4" y2="1155.23" stroke="#000000" stroke-width="2"/>
<rect x="52.5" y="1144.4" width="472.9" height="658.8" fill="none" stroke="#000000" stroke-width="2.7"/>
<clipPath id="clip1"><rect x="564.5" y="1144.4" width="473" height="658.8"/></clipPath>
<g clip-path="url(#clip1)" fill="none" stroke-linejoin="round">
<path d="M565.0,1179.9 L565.6,1181.8 L566.2,1183.7 L566.8,1185.6 L567.4,1187.5 L568.0,1189.5 L568.6,1191.4 L569.2,1193.3 L569.8,1195.2 L570.4,1197.1 L571.0,1199.0 L571.7,1200.9 L572.3,1202.8 L573.0,1204.7 L573.6,1206.6 L574.2,1208.5 L574.9,1210.4 L575.5,1212.3 L576.1,1214.2 L576.7,1216.1 L577.3,1218.0 L577.9,1219.9 L578.4,1221.8 L579.0,1223.7 L579.5,1225.7 L580.1,1227.6 L580.6,1229.5 L581.1,1231.4 L581.7,1233.4 L582.2,1235.3 L582.8,1237.2 L583.4,1239.1 L584.0,1241.0 L584.6,1243.0 L585.2,1244.9 L585.8,1246.8 L586.4,1248.7 L587.1,1250.5 L587.7,1252.4 L588.4,1254.3 L589.0,1256.2 L589.6,1258.1 L590.3,1260.0 L591.0,1261.9 L591.7,1263.8 L592.4,1265.6 L593.2,1267.5 L594.0,1269.3 L594.8,1271.1 L595.7,1272.9 L596.5,1274.7 L597.4,1276.6 L598.2,1278.4 L599.1,1280.2 L599.9,1282.0 L600.7,1283.8 L601.5,1285.7 L602.3,1287.5 L603.1,1289.4 L603.8,1291.2 L604.6,1293.1 L605.3,1294.9 L606.1,1296.8 L606.8,1298.6 L607.6,1300.5 L608.4,1302.3 L609.1,1304.2 L609.9,1306.0 L610.7,1307.9 L611.4,1309.7 L612.2,1311.5 L613.0,1313.4 L613.8,1315.2 L614.5,1317.1 L615.4,1318.9 L616.2,1320.7 L617.1,1322.5 L618.0,1324.3 L618.9,1326.1 L619.9,1327.8 L620.8,1329.6 L621.8,1331.3 L622.8,1333.1 L623.7,1334.8 L624.7,1336.6 L625.6,1338.4 L626.5,1340.1 L627.4,1341.9 L628.3,1343.7 L629.2,1345.5 L630.0,1347.3 L630.9,1349.1 L631.8,1350.9 L632.7,1352.7 L633.6,1354.5 L634.5,1356.3 L635.5,1358.0 L636.5,1359.7 L637.5,1361.5 L638.5,1363.2 L639.5,1364.9 L640.5,1366.6 L641.6,1368.4 L642.6,1370.1 L643.6,1371.8 L644.6,1373.5 L645.6,1375.2 L646.7,1377.0 L647.7,1378.7 L648.7,1380.4 L649.7,1382.1 L650.7,1383.9 L651.8,1385.6 L652.8,1387.3 L653.8,1389.0 L654.9,1390.7 L655.9,1392.4 L657.0,1394.1 L658.1,1395.8 L659.2,1397.4 L660.3,1399.1 L661.4,1400.8 L662.5,1402.4 L663.6,1404.1 L664.8,1405.7 L665.9,1407.4 L667.1,1409.0 L668.3,1410.6 L669.5,1412.2 L670.8,1413.7 L672.0,1415.3 L673.3,1416.9 L674.5,1418.4 L675.8,1420.0 L677.0,1421.6 L678.3,1423.1 L679.5,1424.7 L680.8,1426.2 L682.1,1427.7 L683.4,1429.3 L684.7,1430.8 L686.0,1432.3 L687.3,1433.8 L688.7,1435.2 L690.1,1436.6 L691.6,1437.9 L693.1,1439.1 L694.8,1440.2 L696.5,1441.3 L698.2,1442.3 L699.9,1443.4 L701.6,1444.4 L703.3,1445.5 L704.9,1446.6 L706.6,1447.7 L708.2,1448.9 L709.8,1450.1 L711.4,1451.3 L713.0,1452.5 L714.5,1453.7 L716.1,1455.0 L717.7,1456.2 L719.3,1457.4 L721.0,1458.5 L722.6,1459.6 L724.3,1460.8 L725.9,1461.9 L727.6,1463.0 L729.3,1464.1 L730.9,1465.2 L732.5,1466.4 L734.0,1467.6 L735.5,1468.9 L736.9,1470.3 L738.2,1471.8 L739.4,1473.4 L740.6,1475.0 L741.8,1476.6 L742.9,1478.2 L744.1,1479.9 L745.3,1481.5 L746.4,1483.1 L747.6,1484.7 L748.8,1486.3 L750.0,1487.9 L751.3,1489.4 L752.6,1490.9 L754.0,1492.4 L755.4,1493.8 L756.8,1495.3 L758.2,1496.7 L759.6,1498.1 L761.0,1499.5 L762.4,1501.0 L763.8,1502.4 L765.2,1503.8 L766.6,1505.2 L768.0,1506.6 L769.5,1508.0 L770.9,1509.5 L772.3,1510.9 L773.7,1512.3 L775.1,1513.7 L776.5,1515.1 L778.0,1516.5 L779.4,1517.9 L780.8,1519.3 L782.2,1520.7 L783.6,1522.2 L785.1,1523.6 L786.5,1525.0 L787.9,1526.3 L789.4,1527.7 L790.8,1529.1 L792.3,1530.4 L793.8,1531.8 L795.3,1533.2 L796.7,1534.5 L798.2,1535.8 L799.7,1537.2 L801.2,1538.5" stroke="#4fc9fd" stroke-width="5.4" stroke-dasharray="5.8 4"/>
<path d="M801.2,1538.5 L802.7,1539.9 L804.1,1541.2 L805.6,1542.6 L807.1,1543.9 L808.6,1545.3 L810.1,1546.6 L811.5,1548.0 L813.0,1549.3 L814.5,1550.6 L816.0,1552.0 L817.5,1553.3 L819.0,1554.7 L820.5,1556.0 L822.0,1557.3 L823.4,1558.7 L824.9,1560.0 L826.4,1561.3 L827.9,1562.6 L829.5,1564.0 L831.0,1565.2 L832.5,1566.5 L834.1,1567.8 L835.6,1569.0 L837.2,1570.3 L838.8,1571.5 L840.3,1572.8 L841.9,1574.0 L843.5,1575.2 L845.1,1576.4 L846.7,1577.6 L848.3,1578.7 L850.1,1579.6 L851.8,1580.4 L853.7,1581.1 L855.6,1581.8 L857.5,1582.3 L859.4,1582.8 L861.3,1583.1 L863.3,1583.3 L865.2,1583.4 L867.2,1583.3 L869.1,1583.1 L871.1,1582.9 L873.0,1582.5 L874.9,1582.0 L876.8,1581.3 L878.5,1580.6 L880.3,1579.6 L882.0,1578.6 L883.6,1577.5 L885.3,1576.4 L886.9,1575.2 L888.5,1574.1 L890.2,1572.9 L891.8,1571.8 L893.5,1570.7 L895.2,1569.6 L896.8,1568.5 L898.6,1567.5 L900.3,1566.5 L902.0,1565.5 L903.8,1564.6 L905.6,1563.6 L907.3,1562.7 L909.1,1561.7 L910.8,1560.8 L912.6,1559.8 L914.4,1558.9 L916.1,1558.0 L917.9,1557.1 L919.6,1556.3 L921.4,1555.8 L923.1,1555.5 L924.7,1555.5 L926.4,1556.0 L927.9,1556.8 L929.5,1557.8 L931.0,1559.0 L932.5,1560.3 L933.9,1561.7" stroke="#4fc9fd" stroke-width="5.800000000000001" stroke-dasharray="6 2.2"/>
<path d="M933.9,1561.7 L935.2,1563.2 L936.5,1564.7 L937.6,1566.3 L938.7,1568.0 L939.7,1569.7 L940.7,1571.4 L941.6,1573.2 L942.5,1575.0 L943.3,1576.8 L944.1,1578.7 L944.9,1580.5 L945.7,1582.3 L946.4,1584.2 L947.2,1586.1 L947.9,1587.9 L948.6,1589.8 L949.3,1591.7 L950.0,1593.5 L950.7,1595.4 L951.4,1597.3 L952.0,1599.2 L952.7,1601.1 L953.3,1603.0 L953.9,1604.9 L954.5,1606.8 L955.1,1608.7 L955.7,1610.6 L956.3,1612.5 L956.9,1614.4 L957.5,1616.3 L958.1,1618.3 L958.7,1620.2 L959.2,1622.1 L959.8,1624.0 L960.4,1625.9 L961.0,1627.8 L961.7,1629.7 L962.3,1631.6 L963.0,1633.4 L963.8,1635.3 L964.6,1637.1 L965.4,1639.0 L966.2,1640.8 L967.0,1642.6 L967.9,1644.4 L968.7,1646.3 L969.5,1648.1 L970.4,1649.9 L971.2,1651.7 L972.0,1653.5 L972.9,1655.3 L973.7,1657.2 L974.6,1659.0 L975.4,1660.8 L976.3,1662.6 L977.1,1664.4 L978.0,1666.2 L978.8,1668.0 L979.7,1669.8 L980.5,1671.7 L981.4,1673.5 L982.2,1675.3 L983.1,1677.1 L984.0,1678.9 L984.8,1680.7 L985.8,1682.4 L986.7,1684.2" stroke="#4fc9fd" stroke-width="5.4" stroke-dasharray="5.8 4"/>
<path d="M986.7,1684.2 L987.7,1686.0 L988.7,1687.7 L989.7,1689.4 L990.7,1691.1 L991.7,1692.8 L992.9,1694.4 L994.1,1696.0 L995.4,1697.4 L996.8,1698.8 L998.3,1700.1 L999.9,1701.3 L1001.5,1702.4 L1003.2,1703.6 L1004.8,1704.6 L1006.5,1705.7 L1008.2,1706.7 L1010.0,1707.6 L1011.8,1708.6 L1013.6,1709.5 L1015.4,1710.3 L1017.2,1711.1 L1019.0,1711.9 L1020.9,1712.6 L1022.8,1713.3 L1024.7,1713.9 L1026.6,1714.6 L1028.5,1715.2 L1030.4,1715.8 L1032.3,1716.4 L1034.2,1717.0 L1036.1,1717.6 L1038.0,1718.2" stroke="#4fc9fd" stroke-width="5.800000000000001" stroke-dasharray="6 2.2"/>
<path d="M565.1,1275.4 L565.8,1277.3 L566.6,1279.1 L567.3,1281.0 L568.1,1282.8 L568.8,1284.7 L569.6,1286.5 L570.3,1288.4 L571.0,1290.3 L571.8,1292.1 L572.5,1294.0 L573.2,1295.8 L574.0,1297.7 L574.7,1299.6 L575.4,1301.4 L576.1,1303.3 L576.8,1305.2 L577.5,1307.1 L578.2,1308.9 L578.9,1310.8 L579.6,1312.7 L580.4,1314.5 L581.1,1316.4 L581.8,1318.3 L582.6,1320.1 L583.3,1322.0 L584.0,1323.8 L584.8,1325.7 L585.5,1327.5 L586.3,1329.4 L587.0,1331.3 L587.8,1333.1 L588.5,1335.0 L589.2,1336.8 L590.0,1338.7 L590.7,1340.6 L591.4,1342.4 L592.2,1344.3 L592.9,1346.1 L593.7,1348.0 L594.4,1349.8 L595.1,1351.7 L595.9,1353.6 L596.6,1355.4 L597.4,1357.3 L598.2,1359.1 L598.9,1361.0 L599.7,1362.8 L600.5,1364.7 L601.2,1366.5 L602.0,1368.4 L602.8,1370.2 L603.6,1372.0 L604.4,1373.8 L605.3,1375.6 L606.3,1377.4 L607.3,1379.1 L608.3,1380.8 L609.3,1382.5 L610.4,1384.2 L611.4,1385.9 L612.4,1387.6 L613.5,1389.4 L614.5,1391.1 L615.5,1392.8 L616.5,1394.5 L617.5,1396.3 L618.5,1398.0 L619.5,1399.7 L620.5,1401.5 L621.5,1403.2 L622.5,1405.0 L623.4,1406.7 L624.5,1408.4 L625.5,1410.1 L626.5,1411.8 L627.6,1413.5 L628.7,1415.2 L629.9,1416.8 L631.0,1418.4 L632.2,1420.1 L633.4,1421.7 L634.5,1423.3 L635.7,1424.9 L636.8,1426.6 L638.0,1428.2 L639.1,1429.9 L640.2,1431.5 L641.3,1433.2 L642.4,1434.9 L643.5,1436.5 L644.6,1438.2 L645.8,1439.9 L646.9,1441.5 L648.0,1443.1 L649.2,1444.8 L650.4,1446.4 L651.6,1448.0 L652.8,1449.6 L654.0,1451.2 L655.2,1452.8 L656.4,1454.3 L657.7,1455.9 L659.0,1457.4 L660.4,1458.8 L661.8,1460.3 L663.2,1461.7 L664.6,1463.1 L666.0,1464.6 L667.4,1466.0 L668.7,1467.4 L670.1,1468.9 L671.5,1470.4 L672.8,1471.8 L674.2,1473.3 L675.5,1474.8 L676.9,1476.2 L678.3,1477.7 L679.7,1479.1 L681.1,1480.5 L682.6,1481.9 L684.1,1483.2 L685.6,1484.4 L687.2,1485.7 L688.7,1486.9 L690.3,1488.1 L691.9,1489.4 L693.5,1490.6 L695.1,1491.8 L696.6,1493.0 L698.2,1494.3 L699.8,1495.5 L701.3,1496.8 L702.9,1498.1 L704.4,1499.4 L705.9,1500.6" stroke="#85a8b0" stroke-width="5.0" stroke-linecap="round"/>
<path d="M707.5,1501.9 L709.1,1503.1 L710.7,1504.3 L712.3,1505.4 L714.0,1506.5 L715.7,1507.6 L717.4,1508.6 L719.1,1509.6 L720.8,1510.6 L722.5,1511.7 L724.3,1512.7 L726.0,1513.7 L727.7,1514.7 L729.5,1515.7 L731.2,1516.7 L732.9,1517.8 L734.5,1518.9 L736.2,1520.0 L737.8,1521.1 L739.5,1522.3 L741.1,1523.5 L742.7,1524.7 L744.3,1525.9 L745.9,1527.1 L747.5,1528.3 L749.1,1529.5 L750.7,1530.7 L752.3,1531.9 L753.9,1533.1 L755.5,1534.3 L757.0,1535.5 L758.6,1536.7 L760.2,1538.0 L761.7,1539.2 L763.3,1540.5 L764.8,1541.8 L766.4,1543.1 L767.9,1544.3 L769.4,1545.6 L771.0,1546.9 L772.5,1548.2 L774.0,1549.5 L775.6,1550.7 L777.1,1552.0 L778.6,1553.3 L780.2,1554.6 L781.7,1555.9 L783.1,1557.3 L784.6,1558.7 L786.0,1560.1 L787.4,1561.5 L788.8,1562.9 L790.3,1564.3 L791.7,1565.7 L793.1,1567.1 L794.5,1568.6 L795.9,1570.0 L797.3,1571.4 L798.7,1572.8 L800.1,1574.2 L801.5,1575.6 L803.0,1577.1 L804.4,1578.5 L805.8,1579.9 L807.2,1581.3 L808.6,1582.7 L810.0,1584.1 L811.4,1585.5 L812.9,1587.0 L814.3,1588.4 L815.7,1589.8 L817.1,1591.2 L818.5,1592.6 L819.9,1594.0 L821.3,1595.4 L822.8,1596.9 L824.2,1598.3 L825.6,1599.7 L827.0,1601.1 L828.4,1602.5 L829.8,1603.9 L831.2,1605.3 L832.7,1606.8 L834.1,1608.2 L835.5,1609.6 L836.9,1611.0 L838.3,1612.4 L839.7,1613.8 L841.2,1615.2 L842.6,1616.6 L844.0,1618.0 L845.5,1619.4 L847.0,1620.7 L848.5,1622.0 L850.1,1623.2 L851.7,1624.4 L853.3,1625.6 L854.9,1626.7 L856.6,1627.9" stroke="#85a8b0" stroke-width="5.6" stroke-linecap="round"/>
<path d="M858.2,1629.0 L859.9,1630.1 L861.5,1631.3 L863.1,1632.4 L864.8,1633.5 L866.4,1634.7 L868.1,1635.8 L869.8,1636.9 L871.5,1637.9 L873.2,1638.8 L875.0,1639.6 L876.9,1640.4 L878.7,1641.1 L880.6,1641.8 L882.5,1642.4 L884.4,1643.1 L886.3,1643.7 L888.2,1644.3 L890.1,1644.9 L892.0,1645.5 L893.9,1646.0 L895.8,1646.4 L897.8,1646.8 L899.8,1647.0 L901.7,1647.1 L903.7,1647.2 L905.7,1647.2 L907.7,1647.2 L909.7,1647.2 L911.7,1647.1 L913.7,1647.0 L915.7,1646.8 L917.6,1646.6 L919.6,1646.2 L921.5,1645.8 L923.5,1645.3 L925.4,1644.8 L927.3,1644.3 L929.3,1643.7 L931.2,1643.2 L933.1,1642.6 L935.0,1642.0 L936.9,1641.4 L938.8,1640.8 L940.7,1640.2 L942.6,1639.7 L944.5,1639.3 L946.5,1639.1 L948.4,1639.1 L950.3,1639.2 L952.2,1639.6 L954.1,1640.2 L955.8,1640.9 L957.5,1641.8 L959.2,1642.9 L960.7,1644.1 L962.1,1645.4 L963.5,1646.8 L964.7,1648.4 L965.8,1650.0 L967.0,1651.6 L968.0,1653.3 L969.1,1655.0 L970.1,1656.8 L971.0,1658.5 L972.0,1660.3 L972.9,1662.0 L973.8,1663.8 L974.7,1665.6 L975.6,1667.4 L976.5,1669.2 L977.4,1671.0 L978.3,1672.8 L979.2,1674.5 L980.1,1676.3 L981.0,1678.1 L981.8,1679.9 L982.7,1681.7 L983.6,1683.5 L984.5,1685.3 L985.4,1687.1 L986.3,1688.9 L987.2,1690.7 L988.1,1692.4 L989.1,1694.2 L990.0,1696.0 L991.0,1697.7 L992.0,1699.4 L993.1,1701.1 L994.2,1702.7 L995.4,1704.4 L996.6,1705.9 L997.9,1707.4 L999.3,1708.8 L1000.7,1710.1 L1002.3,1711.3 L1003.9,1712.5 L1005.5,1713.7 L1007.2,1714.8 L1008.9,1715.8 L1010.6,1716.8 L1012.4,1717.7 L1014.2,1718.5 L1016.0,1719.4 L1017.8,1720.1 L1019.7,1720.9 L1021.5,1721.6 L1023.4,1722.2 L1025.3,1722.8 L1027.2,1723.4 L1029.2,1723.8 L1031.1,1724.3 L1033.1,1724.7 L1035.1,1725.0 L1037.0,1725.4 L1038.0,1725.6" stroke="#85a8b0" stroke-width="6.2" stroke-linecap="round"/>
<path d="M972.9,1662.0 L973.8,1663.8 L974.7,1665.6 L975.6,1667.4 L976.5,1669.2 L977.4,1671.0 L978.3,1672.8 L979.2,1674.5 L980.1,1676.3 L981.0,1678.1 L981.8,1679.9 L982.7,1681.7 L983.6,1683.5 L984.5,1685.3 L985.4,1687.1 L986.3,1688.9 L987.2,1690.7 L988.1,1692.4 L989.1,1694.2 L990.0,1696.0 L991.0,1697.7 L992.0,1699.4 L993.1,1701.1 L994.2,1702.7 L995.4,1704.4 L996.6,1705.9 L997.9,1707.4 L999.3,1708.8 L1000.7,1710.1 L1002.3,1711.3 L1003.9,1712.5 L1005.5,1713.7 L1007.2,1714.8 L1008.9,1715.8 L1010.6,1716.8 L1012.4,1717.7 L1014.2,1718.5 L1016.0,1719.4 L1017.8,1720.1 L1019.7,1720.9 L1021.5,1721.6 L1023.4,1722.2 L1025.3,1722.8 L1027.2,1723.4 L1029.2,1723.8 L1031.1,1724.3 L1033.1,1724.7 L1035.1,1725.0 L1037.0,1725.4 L1038.0,1725.6" stroke="#85a8b0" stroke-width="7.5" stroke-linecap="round"/>
</g>
<line x1="664.33" y1="1803.2" x2="664.33" y2="1798.7" stroke="#000000" stroke-width="2"/>
<line x1="664.33" y1="1144.4" x2="664.33" y2="1148.9" stroke="#000000" stroke-width="2"/>
<line x1="722.49" y1="1803.2" x2="722.49" y2="1798.7" stroke="#000000" stroke-width="2"/>
<line x1="722.49" y1="1144.4" x2="722.49" y2="1148.9" stroke="#000000" stroke-width="2"/>
<line x1="763.76" y1="1803.2" x2="763.76" y2="1798.7" stroke="#000000" stroke-width="2"/>
<line x1="763.76" y1="1144.4" x2="763.76" y2="1148.9" stroke="#000000" stroke-width="2"/>
<line x1="795.77" y1="1803.2" x2="795.77" y2="1798.7" stroke="#000000" stroke-width="2"/>
<line x1="795.77" y1="1144.4" x2="795.77" y2="1148.9" stroke="#000000" stroke-width="2"/>
<line x1="821.92" y1="1803.2" x2="821.92" y2="1798.7" stroke="#000000" stroke-width="2"/>
<line x1="821.92" y1="1144.4" x2="821.92" y2="1148.9" stroke="#000000" stroke-width="2"/>
<line x1="844.04" y1="1803.2" x2="844.04" y2="1798.7" stroke="#000000" stroke-width="2"/>
<line x1="844.04" y1="1144.4" x2="844.04" y2="1148.9" stroke="#000000" stroke-width="2"/>
<line x1="863.19" y1="1803.2" x2="863.19" y2="1798.7" stroke="#000000" stroke-width="2"/>
<line x1="863.19" y1="1144.4" x2="863.19" y2="1148.9" stroke="#000000" stroke-width="2"/>
<line x1="880.09" y1="1803.2" x2="880.09" y2="1798.7" stroke="#000000" stroke-width="2"/>
<line x1="880.09" y1="1144.4" x2="880.09" y2="1148.9" stroke="#000000" stroke-width="2"/>
<line x1="895.2" y1="1803.2" x2="895.2" y2="1795.7" stroke="#000000" stroke-width="2"/>
<line x1="895.2" y1="1144.4" x2="895.2" y2="1151.9" stroke="#000000" stroke-width="2"/>
<line x1="994.63" y1="1803.2" x2="994.63" y2="1798.7" stroke="#000000" stroke-width="2"/>
<line x1="994.63" y1="1144.4" x2="994.63" y2="1148.9" stroke="#000000" stroke-width="2"/>
<line x1="564.5" y1="1418.6" x2="572" y2="1418.6" stroke="#000000" stroke-width="2"/>
<line x1="1030" y1="1418.6" x2="1037.5" y2="1418.6" stroke="#000000" stroke-width="2"/>
<line x1="564.5" y1="1694.6" x2="572" y2="1694.6" stroke="#000000" stroke-width="2"/>
<line x1="1030" y1="1694.6" x2="1037.5" y2="1694.6" stroke="#000000" stroke-width="2"/>
<line x1="564.5" y1="1777.68" x2="569" y2="1777.68" stroke="#000000" stroke-width="2"/>
<line x1="1033" y1="1777.68" x2="1037.5" y2="1777.68" stroke="#000000" stroke-width="2"/>
<line x1="564.5" y1="1755.83" x2="569" y2="1755.83" stroke="#000000" stroke-width="2"/>
<line x1="1033" y1="1755.83" x2="1037.5" y2="1755.83" stroke="#000000" stroke-width="2"/>
<line x1="564.5" y1="1737.35" x2="569" y2="1737.35" stroke="#000000" stroke-width="2"/>
<line x1="1033" y1="1737.35" x2="1037.5" y2="1737.35" stroke="#000000" stroke-width="2"/>
<line x1="564.5" y1="1721.35" x2="569" y2="1721.35" stroke="#000000" stroke-width="2"/>
<line x1="1033" y1="1721.35" x2="1037.5" y2="1721.35" stroke="#000000" stroke-width="2"/>
<line x1="564.5" y1="1707.23" x2="569" y2="1707.23" stroke="#000000" stroke-width="2"/>
<line x1="1033" y1="1707.23" x2="1037.5" y2="1707.23" stroke="#000000" stroke-width="2"/>
<line x1="564.5" y1="1611.52" x2="569" y2="1611.52" stroke="#000000" stroke-width="2"/>
<line x1="1033" y1="1611.52" x2="1037.5" y2="1611.52" stroke="#000000" stroke-width="2"/>
<line x1="564.5" y1="1562.91" x2="569" y2="1562.91" stroke="#000000" stroke-width="2"/>
<line x1="1033" y1="1562.91" x2="1037.5" y2="1562.91" stroke="#000000" stroke-width="2"/>
<line x1="564.5" y1="1528.43" x2="569" y2="1528.43" stroke="#000000" stroke-width="2"/>
<line x1="1033" y1="1528.43" x2="1037.5" y2="1528.43" stroke="#000000" stroke-width="2"/>
<line x1="564.5" y1="1501.68" x2="569" y2="1501.68" stroke="#000000" stroke-width="2"/>
<line x1="1033" y1="1501.68" x2="1037.5" y2="1501.68" stroke="#000000" stroke-width="2"/>
<line x1="564.5" y1="1479.83" x2="569" y2="1479.83" stroke="#000000" stroke-width="2"/>
<line x1="1033" y1="1479.83" x2="1037.5" y2="1479.83" stroke="#000000" stroke-width="2"/>
<line x1="564.5" y1="1461.35" x2="569" y2="1461.35" stroke="#000000" stroke-width="2"/>
<line x1="1033" y1="1461.35" x2="1037.5" y2="1461.35" stroke="#000000" stroke-width="2"/>
<line x1="564.5" y1="1445.35" x2="569" y2="1445.35" stroke="#000000" stroke-width="2"/>
<line x1="1033" y1="1445.35" x2="1037.5" y2="1445.35" stroke="#000000" stroke-width="2"/>
<line x1="564.5" y1="1431.23" x2="569" y2="1431.23" stroke="#000000" stroke-width="2"/>
<line x1="1033" y1="1431.23" x2="1037.5" y2="1431.23" stroke="#000000" stroke-width="2"/>
<line x1="564.5" y1="1335.52" x2="569" y2="1335.52" stroke="#000000" stroke-width="2"/>
<line x1="1033" y1="1335.52" x2="1037.5" y2="1335.52" stroke="#000000" stroke-width="2"/>
<line x1="564.5" y1="1286.91" x2="569" y2="1286.91" stroke="#000000" stroke-width="2"/>
<line x1="1033" y1="1286.91" x2="1037.5" y2="1286.91" stroke="#000000" stroke-width="2"/>
<line x1="564.5" y1="1252.43" x2="569" y2="1252.43" stroke="#000000" stroke-width="2"/>
<line x1="1033" y1="1252.43" x2="1037.5" y2="1252.43" stroke="#000000" stroke-width="2"/>
<line x1="564.5" y1="1225.68" x2="569" y2="1225.68" stroke="#000000" stroke-width="2"/>
<line x1="1033" y1="1225.68" x2="1037.5" y2="1225.68" stroke="#000000" stroke-width="2"/>
<line x1="564.5" y1="1203.83" x2="569" y2="1203.83" stroke="#000000" stroke-width="2"/>
<line x1="1033" y1="1203.83" x2="1037.5" y2="1203.83" stroke="#000000" stroke-width="2"/>
<line x1="564.5" y1="1185.35" x2="569" y2="1185.35" stroke="#000000" stroke-width="2"/>
<line x1="1033" y1="1185.35" x2="1037.5" y2="1185.35" stroke="#000000" stroke-width="2"/>
<line x1="564.5" y1="1169.35" x2="569" y2="1169.35" stroke="#000000" stroke-width="2"/>
<line x1="1033" y1="1169.35" x2="1037.5" y2="1169.35" stroke="#000000" stroke-width="2"/>
<line x1="564.5" y1="1155.23" x2="569" y2="1155.23" stroke="#000000" stroke-width="2"/>
<line x1="1033" y1="1155.23" x2="1037.5" y2="1155.23" stroke="#000000" stroke-width="2"/>
<rect x="564.5" y="1144.4" width="473" height="658.8" fill="none" stroke="#000000" stroke-width="2.7"/>
<clipPath id="clip2"><rect x="1078.7" y="1144.4" width="472.9" height="658.8"/></clipPath>
<g clip-path="url(#clip2)" fill="none" stroke-linejoin="round">
<path d="M1096.3,1140.0 L1096.7,1142.0 L1097.0,1143.9 L1097.4,1145.9 L1097.9,1147.8 L1098.3,1149.8 L1098.8,1151.7 L1099.3,1153.7 L1099.7,1155.6 L1100.2,1157.6 L1100.7,1159.5 L1101.2,1161.4 L1101.7,1163.4 L1102.2,1165.3 L1102.7,1167.2 L1103.3,1169.2 L1103.8,1171.1 L1104.4,1173.0 L1105.0,1174.9 L1105.6,1176.8 L1106.2,1178.7 L1106.8,1180.7 L1107.4,1182.6 L1107.9,1184.5 L1108.5,1186.4 L1109.1,1188.3 L1109.7,1190.2 L1110.3,1192.1 L1110.8,1194.1 L1111.4,1196.0 L1111.9,1197.9 L1112.5,1199.8 L1113.0,1201.8 L1113.6,1203.7 L1114.1,1205.6 L1114.7,1207.5 L1115.2,1209.4 L1115.8,1211.4 L1116.3,1213.3 L1116.9,1215.2 L1117.5,1217.1 L1118.2,1219.0 L1118.8,1220.9 L1119.5,1222.8 L1120.2,1224.7 L1120.8,1226.5 L1121.5,1228.4 L1122.2,1230.3 L1122.9,1232.2 L1123.5,1234.1 L1124.2,1236.0 L1124.9,1237.8 L1125.6,1239.7 L1126.3,1241.6 L1127.0,1243.5 L1127.7,1245.4 L1128.4,1247.2 L1129.1,1249.1 L1129.8,1251.0 L1130.5,1252.8 L1131.2,1254.7 L1131.9,1256.6 L1132.6,1258.5 L1133.3,1260.3 L1134.0,1262.2 L1134.7,1264.1 L1135.4,1265.9 L1136.1,1267.8 L1136.9,1269.7 L1137.7,1271.5 L1138.5,1273.3 L1139.3,1275.2 L1140.1,1277.0 L1140.9,1278.8 L1141.8,1280.6 L1142.6,1282.4 L1143.5,1284.3 L1144.3,1286.1 L1145.1,1287.9 L1146.0,1289.7 L1146.9,1291.5 L1147.8,1293.3 L1148.7,1295.0 L1149.7,1296.7 L1150.8,1298.4 L1151.8,1300.1 L1152.9,1301.8 L1154.0,1303.5 L1155.0,1305.2 L1156.1,1306.9 L1157.2,1308.6 L1158.3,1310.3 L1159.4,1311.9 L1160.5,1313.6 L1161.7,1315.2 L1162.9,1316.8 L1164.1,1318.4 L1165.3,1320.0 L1166.6,1321.5 L1167.8,1323.1 L1169.1,1324.6 L1170.3,1326.2 L1171.6,1327.8 L1172.9,1329.3 L1174.1,1330.8 L1175.5,1332.3 L1176.8,1333.8 L1178.2,1335.2 L1179.6,1336.7 L1181.0,1338.1 L1182.4,1339.5 L1183.9,1340.9 L1185.3,1342.3 L1186.7,1343.7 L1188.1,1345.1 L1189.5,1346.5 L1191.0,1347.9 L1192.5,1349.3 L1194.0,1350.6 L1195.5,1351.9 L1197.1,1353.1 L1198.7,1354.3 L1200.3,1355.5 L1201.9,1356.7 L1203.5,1357.9 L1205.1,1359.1 L1206.6,1360.3 L1208.3,1361.5 L1209.9,1362.7 L1211.5,1363.9 L1213.1,1365.1 L1214.7,1366.3 L1216.4,1367.4 L1218.0,1368.5 L1219.7,1369.6 L1221.4,1370.7 L1223.0,1371.8 L1224.7,1372.8 L1226.4,1373.9 L1228.1,1375.0 L1229.8,1376.1 L1231.5,1377.2 L1233.1,1378.3 L1234.8,1379.3 L1236.5,1380.4 L1238.1,1381.6 L1239.8,1382.7 L1241.3,1384.0 L1242.9,1385.2 L1244.4,1386.6 L1245.9,1387.9 L1247.3,1389.2 L1248.8,1390.6 L1250.3,1391.9 L1251.8,1393.3 L1253.3,1394.6 L1254.7,1396.0 L1256.2,1397.3 L1257.7,1398.7 L1259.1,1400.1 L1260.5,1401.5 L1261.9,1403.0 L1263.2,1404.4 L1264.5,1405.9 L1265.8,1407.5 L1267.1,1409.0 L1268.4,1410.5 L1269.7,1412.0 L1271.0,1413.5 L1272.3,1415.1 L1273.6,1416.6 L1274.9,1418.1 L1276.2,1419.6 L1277.5,1421.1 L1278.8,1422.6 L1280.2,1424.2 L1281.5,1425.6 L1282.8,1427.1 L1284.2,1428.6 L1285.5,1430.1 L1286.9,1431.6 L1288.2,1433.0 L1289.6,1434.5 L1290.9,1436.0 L1292.3,1437.5 L1293.6,1439.0 L1295.0,1440.4 L1296.3,1441.9 L1297.7,1443.4 L1299.0,1444.9 L1300.4,1446.4 L1301.7,1447.8 L1303.1,1449.3 L1304.4,1450.8 L1305.7,1452.3 L1307.1,1453.8 L1308.4,1455.2 L1309.8,1456.7 L1311.1,1458.2 L1312.5,1459.7 L1313.8,1461.2 L1315.2,1462.6 L1316.5,1464.1 L1317.9,1465.6 L1319.2,1467.0 L1320.6,1468.5 L1322.0,1469.9" stroke="#4fc9fd" stroke-width="5.4" stroke-dasharray="5.8 4"/>
<path d="M1322.0,1469.9 L1323.4,1471.3 L1324.8,1472.7 L1326.3,1474.2 L1327.7,1475.6 L1329.1,1477.0 L1330.5,1478.4 L1331.9,1479.8 L1333.3,1481.2 L1334.8,1482.6 L1336.2,1484.0 L1337.7,1485.4 L1339.2,1486.7 L1340.7,1487.9 L1342.3,1489.1 L1343.9,1490.3 L1345.6,1491.5 L1347.2,1492.6 L1348.8,1493.8 L1350.5,1494.9 L1352.1,1496.1 L1353.8,1497.2 L1355.4,1498.3 L1357.1,1499.3 L1358.9,1500.3 L1360.6,1501.1 L1362.5,1501.9 L1364.3,1502.6 L1366.2,1503.3 L1368.1,1504.0 L1370.0,1504.6 L1371.9,1505.3 L1373.8,1505.8 L1375.6,1506.3 L1377.5,1506.5 L1379.4,1506.5 L1381.3,1506.2 L1383.2,1505.8 L1385.1,1505.2 L1387.0,1504.6 L1388.9,1503.9 L1390.7,1503.3 L1392.6,1502.6 L1394.5,1501.9 L1396.3,1501.1 L1398.1,1500.2 L1399.8,1499.2 L1401.5,1498.2 L1403.2,1497.1 L1404.8,1496.0 L1406.5,1494.8 L1408.1,1493.7 L1409.7,1492.5 L1411.4,1491.4 L1413.0,1490.2 L1414.6,1489.1 L1416.3,1487.9 L1417.9,1486.7 L1419.5,1485.5 L1421.0,1484.3 L1422.6,1483.0 L1424.2,1481.8 L1425.7,1480.5 L1427.3,1479.3 L1428.9,1478.0 L1430.4,1476.8 L1432.0,1475.6 L1433.6,1474.4 L1435.2,1473.4 L1436.9,1472.6 L1438.6,1472.1 L1440.5,1471.9 L1442.4,1472.0 L1444.2,1472.3 L1446.1,1472.8 L1447.9,1473.4 L1449.5,1474.3 L1451.0,1475.5 L1452.4,1476.8" stroke="#4fc9fd" stroke-width="5.800000000000001" stroke-dasharray="6 2.2"/>
<path d="M1452.4,1476.8 L1453.6,1478.3 L1454.8,1479.9 L1455.9,1481.5 L1456.9,1483.2 L1457.8,1485.0 L1458.5,1486.8 L1459.2,1488.7 L1459.8,1490.6 L1460.4,1492.5 L1461.0,1494.4 L1461.5,1496.3 L1462.1,1498.3 L1462.7,1500.2 L1463.3,1502.1 L1463.9,1504.0 L1464.5,1505.9 L1465.1,1507.8 L1465.7,1509.7 L1466.3,1511.6 L1466.8,1513.6 L1467.4,1515.5 L1468.0,1517.4 L1468.6,1519.3 L1469.2,1521.2 L1469.7,1523.1 L1470.3,1525.0 L1470.9,1527.0 L1471.5,1528.9 L1472.0,1530.8 L1472.6,1532.7 L1473.1,1534.6 L1473.7,1536.6 L1474.2,1538.5 L1474.7,1540.4 L1475.2,1542.4 L1475.7,1544.3 L1476.2,1546.3 L1476.6,1548.2 L1477.1,1550.1 L1477.6,1552.1 L1478.1,1554.0 L1478.6,1555.9 L1479.1,1557.9 L1479.7,1559.8 L1480.2,1561.7 L1480.8,1563.7 L1481.3,1565.6 L1481.9,1567.5 L1482.4,1569.4 L1483.0,1571.4 L1483.5,1573.3 L1484.1,1575.2 L1484.6,1577.1 L1485.2,1579.1 L1485.7,1581.0 L1486.3,1582.9 L1486.9,1584.8 L1487.5,1586.7 L1488.1,1588.6 L1488.8,1590.5 L1489.4,1592.4 L1490.1,1594.3 L1490.8,1596.1 L1491.5,1598.0 L1492.1,1599.9 L1492.8,1601.8 L1493.5,1603.7 L1494.1,1605.6 L1494.8,1607.5 L1495.5,1609.3 L1496.2,1611.2 L1496.8,1613.1 L1497.5,1615.0 L1498.2,1616.9 L1498.9,1618.7 L1499.6,1620.6 L1500.3,1622.5 L1501.0,1624.4 L1501.7,1626.2 L1502.4,1628.1 L1503.2,1630.0 L1503.9,1631.8 L1504.6,1633.7 L1505.3,1635.6 L1506.0,1637.5 L1506.7,1639.3" stroke="#4fc9fd" stroke-width="5.4" stroke-dasharray="5.8 4"/>
<path d="M1506.7,1639.3 L1507.5,1641.2 L1508.3,1643.0 L1509.1,1644.8 L1510.1,1646.5 L1511.1,1648.2 L1512.2,1649.9 L1513.3,1651.6 L1514.4,1653.2 L1515.5,1654.9 L1516.6,1656.6 L1517.7,1658.2 L1518.8,1659.9 L1520.0,1661.6 L1521.1,1663.2 L1522.3,1664.8 L1523.5,1666.3 L1524.8,1667.8 L1526.3,1669.1 L1527.8,1670.3 L1529.4,1671.4 L1531.1,1672.5 L1532.8,1673.6 L1534.5,1674.7 L1536.2,1675.7 L1537.9,1676.7 L1539.7,1677.7 L1541.4,1678.6 L1543.2,1679.4 L1545.1,1680.2 L1546.9,1681.0 L1548.8,1681.7 L1550.6,1682.5 L1552.5,1683.2" stroke="#4fc9fd" stroke-width="5.800000000000001" stroke-dasharray="6 2.2"/>
<path d="M1097.5,1140.0 L1098.1,1141.9 L1098.8,1143.8 L1099.4,1145.7 L1100.0,1147.6 L1100.6,1149.5 L1101.2,1151.4 L1101.9,1153.3 L1102.5,1155.2 L1103.1,1157.1 L1103.7,1159.0 L1104.3,1160.9 L1104.9,1162.8 L1105.6,1164.7 L1106.2,1166.6 L1106.8,1168.5 L1107.4,1170.4 L1108.0,1172.3 L1108.7,1174.2 L1109.3,1176.1 L1109.9,1178.0 L1110.5,1179.9 L1111.2,1181.8 L1111.8,1183.7 L1112.4,1185.6 L1113.1,1187.5 L1113.7,1189.4 L1114.3,1191.3 L1115.0,1193.2 L1115.6,1195.1 L1116.2,1197.0 L1116.9,1198.9 L1117.5,1200.8 L1118.2,1202.7 L1118.8,1204.6 L1119.4,1206.5 L1120.1,1208.4 L1120.8,1210.3 L1121.4,1212.2 L1122.1,1214.1 L1122.7,1216.0 L1123.4,1217.8 L1124.1,1219.7 L1124.7,1221.6 L1125.4,1223.5 L1126.0,1225.4 L1126.7,1227.3 L1127.4,1229.2 L1128.0,1231.1 L1128.7,1232.9 L1129.4,1234.8 L1130.1,1236.7 L1130.8,1238.6 L1131.6,1240.4 L1132.3,1242.3 L1133.1,1244.1 L1133.9,1246.0 L1134.6,1247.8 L1135.4,1249.7 L1136.2,1251.5 L1136.9,1253.4 L1137.7,1255.2 L1138.4,1257.1 L1139.2,1258.9 L1140.0,1260.8 L1140.7,1262.6 L1141.5,1264.5 L1142.2,1266.3 L1143.0,1268.2 L1143.8,1270.0 L1144.5,1271.9 L1145.2,1273.7 L1146.0,1275.6 L1146.7,1277.5 L1147.5,1279.3 L1148.2,1281.2 L1149.0,1283.0 L1149.7,1284.9 L1150.5,1286.7 L1151.2,1288.6 L1152.0,1290.5 L1152.7,1292.3 L1153.5,1294.2 L1154.3,1296.0 L1155.0,1297.8 L1155.8,1299.7 L1156.6,1301.5 L1157.4,1303.3 L1158.2,1305.2 L1159.1,1307.0 L1159.9,1308.8 L1160.7,1310.7 L1161.5,1312.5 L1162.3,1314.3 L1163.1,1316.2 L1163.9,1318.0 L1164.7,1319.8 L1165.5,1321.7 L1166.3,1323.5 L1167.1,1325.3 L1167.9,1327.2 L1168.7,1329.0 L1169.5,1330.8 L1170.3,1332.7 L1171.1,1334.5 L1171.9,1336.3 L1172.7,1338.2 L1173.5,1340.0 L1174.3,1341.8 L1175.1,1343.7 L1175.9,1345.5 L1176.7,1347.3 L1177.6,1349.1 L1178.5,1350.9 L1179.4,1352.7 L1180.4,1354.4 L1181.4,1356.1 L1182.5,1357.8 L1183.6,1359.5 L1184.6,1361.2 L1185.7,1362.9 L1186.8,1364.6 L1187.9,1366.2 L1189.0,1367.9 L1190.0,1369.6 L1191.1,1371.3 L1192.2,1373.0 L1193.3,1374.7 L1194.4,1376.3 L1195.5,1378.0 L1196.7,1379.6 L1197.8,1381.3 L1199.0,1382.9 L1200.1,1384.5 L1201.3,1386.2 L1202.4,1387.8 L1203.6,1389.4 L1204.8,1391.1 L1205.9,1392.7 L1207.1,1394.3 L1208.2,1395.9 L1209.4,1397.6 L1210.6,1399.2 L1211.8,1400.8 L1213.0,1402.4 L1214.3,1403.9 L1215.6,1405.4 L1216.9,1406.9 L1218.3,1408.4 L1219.6,1409.9" stroke="#85a8b0" stroke-width="5.0" stroke-linecap="round"/>
<path d="M1221.0,1411.3 L1222.3,1412.8 L1223.7,1414.3 L1225.0,1415.7 L1226.4,1417.2 L1227.8,1418.7 L1229.1,1420.2 L1230.5,1421.6 L1231.8,1423.1 L1233.2,1424.5 L1234.6,1426.0 L1236.0,1427.4 L1237.4,1428.8 L1238.8,1430.3 L1240.2,1431.7 L1241.6,1433.1 L1243.1,1434.5 L1244.5,1435.9 L1245.9,1437.3 L1247.3,1438.8 L1248.7,1440.2 L1250.1,1441.6 L1251.5,1443.0 L1253.0,1444.4 L1254.4,1445.8 L1255.8,1447.2 L1257.3,1448.6 L1258.7,1450.0 L1260.2,1451.4 L1261.6,1452.7 L1263.1,1454.1 L1264.6,1455.4 L1266.1,1456.8 L1267.5,1458.1 L1269.0,1459.5 L1270.5,1460.8 L1272.0,1462.1 L1273.5,1463.5 L1275.0,1464.8 L1276.4,1466.2 L1277.9,1467.5 L1279.4,1468.9 L1280.8,1470.3 L1282.3,1471.7 L1283.7,1473.1 L1285.1,1474.5 L1286.5,1475.9 L1287.9,1477.3 L1289.4,1478.7 L1290.8,1480.1 L1292.2,1481.5 L1293.6,1482.9 L1295.0,1484.4 L1296.4,1485.8 L1297.8,1487.2 L1299.2,1488.6 L1300.6,1490.1 L1302.0,1491.6 L1303.3,1493.0 L1304.7,1494.5 L1306.0,1496.0 L1307.4,1497.5 L1308.7,1499.0 L1310.1,1500.4 L1311.4,1501.9 L1312.8,1503.4 L1314.1,1504.9 L1315.4,1506.4 L1316.8,1507.8 L1318.2,1509.3 L1319.5,1510.7 L1320.9,1512.2 L1322.3,1513.6 L1323.7,1515.0 L1325.1,1516.5 L1326.5,1517.9 L1328.0,1519.3 L1329.4,1520.7 L1330.8,1522.1 L1332.2,1523.6 L1333.6,1525.0 L1335.0,1526.4 L1336.4,1527.8 L1337.8,1529.2 L1339.3,1530.6 L1340.7,1532.1 L1342.1,1533.5 L1343.5,1534.9 L1344.9,1536.3 L1346.3,1537.7 L1347.8,1539.1 L1349.2,1540.5 L1350.6,1541.9 L1352.0,1543.4 L1353.4,1544.8 L1354.9,1546.2 L1356.3,1547.6 L1357.8,1548.9 L1359.2,1550.3 L1360.8,1551.6 L1362.3,1552.8 L1363.8,1554.1 L1365.4,1555.4 L1367.0,1556.6 L1368.5,1557.9 L1370.1,1559.1 L1371.6,1560.4" stroke="#85a8b0" stroke-width="5.6" stroke-linecap="round"/>
<path d="M1373.2,1561.6 L1374.8,1562.8 L1376.4,1564.0 L1378.1,1565.1 L1379.8,1566.1 L1381.5,1567.1 L1383.3,1568.0 L1385.1,1568.8 L1386.9,1569.6 L1388.7,1570.5 L1390.6,1571.3 L1392.4,1572.1 L1394.2,1572.8 L1396.1,1573.5 L1398.0,1574.1 L1399.9,1574.5 L1401.9,1574.7 L1403.8,1574.9 L1405.8,1575.0 L1407.8,1575.1 L1409.8,1575.2 L1411.8,1575.3 L1413.8,1575.3 L1415.8,1575.2 L1417.7,1575.0 L1419.6,1574.6 L1421.5,1574.0 L1423.4,1573.4 L1425.3,1572.7 L1427.1,1571.9 L1429.0,1571.2 L1430.9,1570.5 L1432.7,1569.7 L1434.6,1569.0 L1436.4,1568.2 L1438.3,1567.4 L1440.1,1566.6 L1441.9,1565.8 L1443.8,1565.0 L1445.6,1564.2 L1447.4,1563.4 L1449.2,1562.6 L1451.1,1561.8 L1452.9,1561.0 L1454.8,1560.3 L1456.6,1559.8 L1458.6,1559.4 L1460.5,1559.1 L1462.5,1559.0 L1464.4,1559.0 L1466.4,1559.1 L1468.3,1559.3 L1470.0,1559.8 L1471.7,1560.6 L1473.2,1561.7 L1474.7,1562.9 L1476.0,1564.3 L1477.4,1565.8 L1478.6,1567.3 L1479.8,1568.9 L1480.9,1570.6 L1481.8,1572.3 L1482.7,1574.1 L1483.5,1575.9 L1484.2,1577.8 L1485.0,1579.6 L1485.7,1581.5 L1486.4,1583.3 L1487.2,1585.2 L1487.9,1587.1 L1488.6,1588.9 L1489.3,1590.8 L1489.9,1592.7 L1490.6,1594.6 L1491.2,1596.5 L1491.9,1598.4 L1492.5,1600.3 L1493.1,1602.2 L1493.8,1604.1 L1494.4,1606.0 L1495.1,1607.9 L1495.7,1609.8 L1496.3,1611.7 L1497.0,1613.6 L1497.6,1615.5 L1498.2,1617.4 L1498.9,1619.3 L1499.5,1621.2 L1500.1,1623.1 L1500.8,1625.0 L1501.4,1626.9 L1502.0,1628.8 L1502.7,1630.7 L1503.3,1632.6 L1504.0,1634.4 L1504.6,1636.3 L1505.4,1638.2 L1506.1,1640.1 L1506.8,1641.9 L1507.6,1643.8 L1508.4,1645.6 L1509.1,1647.5 L1509.9,1649.3 L1510.7,1651.1 L1511.5,1653.0 L1512.3,1654.8 L1513.1,1656.7 L1513.9,1658.5 L1514.8,1660.2 L1515.8,1662.0 L1516.8,1663.7 L1517.9,1665.4 L1519.0,1667.1 L1520.1,1668.7 L1521.2,1670.4 L1522.3,1672.0 L1523.4,1673.7 L1524.6,1675.3 L1525.9,1676.7 L1527.3,1678.1 L1528.8,1679.3 L1530.4,1680.5 L1532.1,1681.5 L1533.8,1682.5 L1535.6,1683.5 L1537.3,1684.4 L1539.1,1685.2 L1541.0,1686.0 L1542.8,1686.6 L1544.7,1687.2 L1546.7,1687.7 L1548.6,1688.2 L1550.6,1688.6 L1552.5,1689.1" stroke="#85a8b0" stroke-width="6.2" stroke-linecap="round"/>
<path d="M1498.2,1617.4 L1498.9,1619.3 L1499.5,1621.2 L1500.1,1623.1 L1500.8,1625.0 L1501.4,1626.9 L1502.0,1628.8 L1502.7,1630.7 L1503.3,1632.6 L1504.0,1634.4 L1504.6,1636.3 L1505.4,1638.2 L1506.1,1640.1 L1506.8,1641.9 L1507.6,1643.8 L1508.4,1645.6 L1509.1,1647.5 L1509.9,1649.3 L1510.7,1651.1 L1511.5,1653.0 L1512.3,1654.8 L1513.1,1656.7 L1513.9,1658.5 L1514.8,1660.2 L1515.8,1662.0 L1516.8,1663.7 L1517.9,1665.4 L1519.0,1667.1 L1520.1,1668.7 L1521.2,1670.4 L1522.3,1672.0 L1523.4,1673.7 L1524.6,1675.3 L1525.9,1676.7 L1527.3,1678.1 L1528.8,1679.3 L1530.4,1680.5 L1532.1,1681.5 L1533.8,1682.5 L1535.6,1683.5 L1537.3,1684.4 L1539.1,1685.2 L1541.0,1686.0 L1542.8,1686.6 L1544.7,1687.2 L1546.7,1687.7 L1548.6,1688.2 L1550.6,1688.6 L1552.5,1689.1" stroke="#85a8b0" stroke-width="7.0" stroke-linecap="round"/>
</g>
<line x1="1178.53" y1="1803.2" x2="1178.53" y2="1798.7" stroke="#000000" stroke-width="2"/>
<line x1="1178.53" y1="1144.4" x2="1178.53" y2="1148.9" stroke="#000000" stroke-width="2"/>
<line x1="1236.69" y1="1803.2" x2="1236.69" y2="1798.7" stroke="#000000" stroke-width="2"/>
<line x1="1236.69" y1="1144.4" x2="1236.69" y2="1148.9" stroke="#000000" stroke-width="2"/>
<line x1="1277.96" y1="1803.2" x2="1277.96" y2="1798.7" stroke="#000000" stroke-width="2"/>
<line x1="1277.96" y1="1144.4" x2="1277.96" y2="1148.9" stroke="#000000" stroke-width="2"/>
<line x1="1309.97" y1="1803.2" x2="1309.97" y2="1798.7" stroke="#000000" stroke-width="2"/>
<line x1="1309.97" y1="1144.4" x2="1309.97" y2="1148.9" stroke="#000000" stroke-width="2"/>
<line x1="1336.12" y1="1803.2" x2="1336.12" y2="1798.7" stroke="#000000" stroke-width="2"/>
<line x1="1336.12" y1="1144.4" x2="1336.12" y2="1148.9" stroke="#000000" stroke-width="2"/>
<line x1="1358.24" y1="1803.2" x2="1358.24" y2="1798.7" stroke="#000000" stroke-width="2"/>
<line x1="1358.24" y1="1144.4" x2="1358.24" y2="1148.9" stroke="#000000" stroke-width="2"/>
<line x1="1377.39" y1="1803.2" x2="1377.39" y2="1798.7" stroke="#000000" stroke-width="2"/>
<line x1="1377.39" y1="1144.4" x2="1377.39" y2="1148.9" stroke="#000000" stroke-width="2"/>
<line x1="1394.29" y1="1803.2" x2="1394.29" y2="1798.7" stroke="#000000" stroke-width="2"/>
<line x1="1394.29" y1="1144.4" x2="1394.29" y2="1148.9" stroke="#000000" stroke-width="2"/>
<line x1="1409.4" y1="1803.2" x2="1409.4" y2="1795.7" stroke="#000000" stroke-width="2"/>
<line x1="1409.4" y1="1144.4" x2="1409.4" y2="1151.9" stroke="#000000" stroke-width="2"/>
<line x1="1508.83" y1="1803.2" x2="1508.83" y2="1798.7" stroke="#000000" stroke-width="2"/>
<line x1="1508.83" y1="1144.4" x2="1508.83" y2="1148.9" stroke="#000000" stroke-width="2"/>
<line x1="1078.7" y1="1418.6" x2="1086.2" y2="1418.6" stroke="#000000" stroke-width="2"/>
<line x1="1544.1" y1="1418.6" x2="1551.6" y2="1418.6" stroke="#000000" stroke-width="2"/>
<line x1="1078.7" y1="1694.6" x2="1086.2" y2="1694.6" stroke="#000000" stroke-width="2"/>
<line x1="1544.1" y1="1694.6" x2="1551.6" y2="1694.6" stroke="#000000" stroke-width="2"/>
<line x1="1078.7" y1="1777.68" x2="1083.2" y2="1777.68" stroke="#000000" stroke-width="2"/>
<line x1="1547.1" y1="1777.68" x2="1551.6" y2="1777.68" stroke="#000000" stroke-width="2"/>
<line x1="1078.7" y1="1755.83" x2="1083.2" y2="1755.83" stroke="#000000" stroke-width="2"/>
<line x1="1547.1" y1="1755.83" x2="1551.6" y2="1755.83" stroke="#000000" stroke-width="2"/>
<line x1="1078.7" y1="1737.35" x2="1083.2" y2="1737.35" stroke="#000000" stroke-width="2"/>
<line x1="1547.1" y1="1737.35" x2="1551.6" y2="1737.35" stroke="#000000" stroke-width="2"/>
<line x1="1078.7" y1="1721.35" x2="1083.2" y2="1721.35" stroke="#000000" stroke-width="2"/>
<line x1="1547.1" y1="1721.35" x2="1551.6" y2="1721.35" stroke="#000000" stroke-width="2"/>
<line x1="1078.7" y1="1707.23" x2="1083.2" y2="1707.23" stroke="#000000" stroke-width="2"/>
<line x1="1547.1" y1="1707.23" x2="1551.6" y2="1707.23" stroke="#000000" stroke-width="2"/>
<line x1="1078.7" y1="1611.52" x2="1083.2" y2="1611.52" stroke="#000000" stroke-width="2"/>
<line x1="1547.1" y1="1611.52" x2="1551.6" y2="1611.52" stroke="#000000" stroke-width="2"/>
<line x1="1078.7" y1="1562.91" x2="1083.2" y2="1562.91" stroke="#000000" stroke-width="2"/>
<line x1="1547.1" y1="1562.91" x2="1551.6" y2="1562.91" stroke="#000000" stroke-width="2"/>
<line x1="1078.7" y1="1528.43" x2="1083.2" y2="1528.43" stroke="#000000" stroke-width="2"/>
<line x1="1547.1" y1="1528.43" x2="1551.6" y2="1528.43" stroke="#000000" stroke-width="2"/>
<line x1="1078.7" y1="1501.68" x2="1083.2" y2="1501.68" stroke="#000000" stroke-width="2"/>
<line x1="1547.1" y1="1501.68" x2="1551.6" y2="1501.68" stroke="#000000" stroke-width="2"/>
<line x1="1078.7" y1="1479.83" x2="1083.2" y2="1479.83" stroke="#000000" stroke-width="2"/>
<line x1="1547.1" y1="1479.83" x2="1551.6" y2="1479.83" stroke="#000000" stroke-width="2"/>
<line x1="1078.7" y1="1461.35" x2="1083.2" y2="1461.35" stroke="#000000" stroke-width="2"/>
<line x1="1547.1" y1="1461.35" x2="1551.6" y2="1461.35" stroke="#000000" stroke-width="2"/>
<line x1="1078.7" y1="1445.35" x2="1083.2" y2="1445.35" stroke="#000000" stroke-width="2"/>
<line x1="1547.1" y1="1445.35" x2="1551.6" y2="1445.35" stroke="#000000" stroke-width="2"/>
<line x1="1078.7" y1="1431.23" x2="1083.2" y2="1431.23" stroke="#000000" stroke-width="2"/>
<line x1="1547.1" y1="1431.23" x2="1551.6" y2="1431.23" stroke="#000000" stroke-width="2"/>
<line x1="1078.7" y1="1335.52" x2="1083.2" y2="1335.52" stroke="#000000" stroke-width="2"/>
<line x1="1547.1" y1="1335.52" x2="1551.6" y2="1335.52" stroke="#000000" stroke-width="2"/>
<line x1="1078.7" y1="1286.91" x2="1083.2" y2="1286.91" stroke="#000000" stroke-width="2"/>
<line x1="1547.1" y1="1286.91" x2="1551.6" y2="1286.91" stroke="#000000" stroke-width="2"/>
<line x1="1078.7" y1="1252.43" x2="1083.2" y2="1252.43" stroke="#000000" stroke-width="2"/>
<line x1="1547.1" y1="1252.43" x2="1551.6" y2="1252.43" stroke="#000000" stroke-width="2"/>
<line x1="1078.7" y1="1225.68" x2="1083.2" y2="1225.68" stroke="#000000" stroke-width="2"/>
<line x1="1547.1" y1="1225.68" x2="1551.6" y2="1225.68" stroke="#000000" stroke-width="2"/>
<line x1="1078.7" y1="1203.83" x2="1083.2" y2="1203.83" stroke="#000000" stroke-width="2"/>
<line x1="1547.1" y1="1203.83" x2="1551.6" y2="1203.83" stroke="#000000" stroke-width="2"/>
<line x1="1078.7" y1="1185.35" x2="1083.2" y2="1185.35" stroke="#000000" stroke-width="2"/>
<line x1="1547.1" y1="1185.35" x2="1551.6" y2="1185.35" stroke="#000000" stroke-width="2"/>
<line x1="1078.7" y1="1169.35" x2="1083.2" y2="1169.35" stroke="#000000" stroke-width="2"/>
<line x1="1547.1" y1="1169.35" x2="1551.6" y2="1169.35" stroke="#000000" stroke-width="2"/>
<line x1="1078.7" y1="1155.23" x2="1083.2" y2="1155.23" stroke="#000000" stroke-width="2"/>
<line x1="1547.1" y1="1155.23" x2="1551.6" y2="1155.23" stroke="#000000" stroke-width="2"/>
<rect x="1078.7" y="1144.4" width="472.9" height="658.8" fill="none" stroke="#000000" stroke-width="2.7"/>
<clipPath id="clip3"><rect x="1592.2" y="1144.4" width="472.5" height="658.8"/></clipPath>
<g clip-path="url(#clip3)" fill="none" stroke-linejoin="round">
<path d="M1592.5,1196.2 L1593.8,1197.7 L1595.0,1199.3 L1596.3,1200.8 L1597.6,1202.4 L1598.9,1203.9 L1600.1,1205.5 L1601.4,1207.0 L1602.7,1208.5 L1604.0,1210.1 L1605.3,1211.6 L1606.6,1213.1 L1607.9,1214.6 L1609.2,1216.1 L1610.5,1217.7 L1611.8,1219.2 L1613.1,1220.7 L1614.5,1222.2 L1615.8,1223.7 L1617.1,1225.2 L1618.5,1226.6 L1619.9,1228.1 L1621.2,1229.5 L1622.7,1230.9 L1624.1,1232.4 L1625.5,1233.8 L1626.9,1235.2 L1628.3,1236.6 L1629.7,1238.0 L1631.1,1239.4 L1632.6,1240.8 L1634.0,1242.2 L1635.5,1243.6 L1637.0,1244.9 L1638.5,1246.2 L1640.0,1247.5 L1641.5,1248.9 L1643.0,1250.2 L1644.5,1251.5 L1646.0,1252.8 L1647.6,1254.1 L1649.1,1255.3 L1650.7,1256.4 L1652.4,1257.5 L1654.1,1258.6 L1655.8,1259.6 L1657.6,1260.6 L1659.3,1261.5 L1661.1,1262.5 L1662.8,1263.5 L1664.6,1264.4 L1666.4,1265.3 L1668.2,1266.2 L1670.0,1267.0 L1671.8,1267.8 L1673.7,1268.6 L1675.5,1269.3 L1677.4,1270.1 L1679.2,1270.8 L1681.1,1271.6 L1682.9,1272.3 L1684.8,1273.0 L1686.7,1273.8 L1688.6,1274.4 L1690.4,1275.1 L1692.3,1275.8 L1694.2,1276.4 L1696.1,1277.0 L1698.0,1277.7 L1699.9,1278.3 L1701.8,1278.9 L1703.7,1279.6 L1705.6,1280.2 L1707.5,1280.9 L1709.4,1281.5 L1711.3,1282.2 L1713.1,1282.9 L1715.0,1283.7 L1716.8,1284.4 L1718.7,1285.2 L1720.5,1286.0 L1722.4,1286.7 L1724.2,1287.5 L1726.1,1288.3 L1727.9,1289.0 L1729.8,1289.8 L1731.6,1290.6 L1733.4,1291.5 L1735.2,1292.4 L1737.0,1293.3 L1738.7,1294.3 L1740.4,1295.3 L1742.2,1296.3 L1743.9,1297.3 L1745.6,1298.3 L1747.3,1299.4 L1749.0,1300.4 L1750.7,1301.4 L1752.4,1302.5 L1754.2,1303.5 L1755.9,1304.5 L1757.6,1305.6 L1759.3,1306.6 L1761.0,1307.7 L1762.7,1308.8 L1764.4,1309.8 L1766.0,1310.9 L1767.7,1312.0 L1769.3,1313.2 L1770.9,1314.4 L1772.4,1315.7 L1773.9,1317.0 L1775.3,1318.4 L1776.8,1319.8 L1778.2,1321.2 L1779.7,1322.5 L1781.1,1323.9 L1782.6,1325.3 L1784.0,1326.7 L1785.5,1328.1 L1786.9,1329.5 L1788.3,1330.9 L1789.7,1332.3 L1791.0,1333.8 L1792.3,1335.3 L1793.6,1336.8 L1794.9,1338.4 L1796.2,1339.9 L1797.5,1341.4 L1798.8,1343.0 L1800.1,1344.5 L1801.3,1346.0 L1802.6,1347.6 L1803.9,1349.1 L1805.2,1350.6 L1806.5,1352.2 L1807.8,1353.7 L1809.0,1355.3 L1810.3,1356.8 L1811.6,1358.3 L1812.9,1359.9 L1814.2,1361.4 L1815.4,1362.9 L1816.7,1364.5 L1818.0,1366.0 L1819.3,1367.6 L1820.6,1369.1 L1821.8,1370.6 L1823.1,1372.2 L1824.4,1373.7 L1825.7,1375.3 L1827.0,1376.8 L1828.3,1378.3 L1829.6,1379.8 L1830.9,1381.3 L1832.2,1382.8 L1833.6,1384.3 L1834.9,1385.8 L1836.2,1387.3 L1837.6,1388.7 L1838.9,1390.2 L1840.3,1391.7 L1841.6,1393.2 L1843.0,1394.7 L1844.3,1396.1 L1845.7,1397.6 L1847.1,1399.0 L1848.5,1400.4 L1850.0,1401.7 L1851.6,1402.9 L1853.2,1404.1 L1854.8,1405.3 L1856.4,1406.5 L1858.1,1407.6 L1859.7,1408.7 L1861.4,1409.9 L1863.0,1411.0 L1864.7,1412.1 L1866.4,1413.2 L1868.1,1414.1 L1869.9,1415.0 L1871.7,1415.7 L1873.6,1416.4 L1875.5,1417.0 L1877.4,1417.6 L1879.3,1418.2 L1881.2,1418.7 L1883.1,1419.2 L1885.0,1419.6 L1886.9,1419.8 L1888.8,1419.7 L1890.6,1419.3 L1892.4,1418.7 L1894.2,1417.9 L1896.0,1417.1 L1897.8,1416.2 L1899.6,1415.3 L1901.4,1414.4 L1903.1,1413.4 L1904.9,1412.5 L1906.6,1411.4 L1908.2,1410.3 L1909.7,1409.1 L1911.2,1407.8 L1912.7,1406.4 L1914.1,1405.0 L1915.5,1403.6 L1916.9,1402.2 L1918.4,1400.8 L1919.8,1399.4 L1921.2,1398.0 L1922.6,1396.6 L1924.0,1395.1 L1925.4,1393.7 L1926.7,1392.2 L1928.0,1390.7 L1929.3,1389.2 L1930.5,1387.6 L1931.7,1386.0 L1932.9,1384.3 L1934.0,1382.7 L1935.2,1381.1 L1936.4,1379.5 L1937.5,1377.8 L1938.7,1376.2 L1939.8,1374.6 L1941.0,1372.9 L1942.2,1371.3 L1943.3,1369.7 L1944.5,1368.1 L1945.8,1366.6 L1947.1,1365.1 L1948.5,1363.7 L1950.0,1362.5 L1951.6,1361.3 L1953.3,1360.2 L1954.9,1359.1 L1956.6,1358.1 L1958.3,1357.1 L1960.0,1356.3 L1961.7,1355.8 L1963.3,1355.7 L1964.9,1356.0 L1966.5,1356.8 L1968.0,1357.8 L1969.5,1359.0 L1971.0,1360.3 L1972.5,1361.6 L1973.8,1363.1 L1974.9,1364.6 L1975.9,1366.3 L1976.7,1368.1 L1977.5,1369.9 L1978.2,1371.8 L1978.9,1373.6 L1979.5,1375.5 L1980.2,1377.4 L1980.9,1379.3 L1981.5,1381.2 L1982.2,1383.1 L1982.7,1385.0 L1983.2,1386.9 L1983.7,1388.9 L1984.1,1390.8 L1984.5,1392.8 L1984.9,1394.7 L1985.2,1396.7 L1985.6,1398.7 L1986.0,1400.6 L1986.4,1402.6 L1986.7,1404.6 L1987.1,1406.5 L1987.5,1408.5 L1987.9,1410.5 L1988.2,1412.4 L1988.6,1414.4 L1989.0,1416.4 L1989.3,1418.3 L1989.7,1420.3 L1990.0,1422.3 L1990.4,1424.2 L1990.7,1426.2 L1991.1,1428.2 L1991.4,1430.1 L1991.8,1432.1 L1992.1,1434.1 L1992.5,1436.1 L1992.8,1438.0 L1993.2,1440.0 L1993.5,1442.0 L1993.8,1443.9 L1994.2,1445.9 L1994.6,1447.9 L1995.0,1449.8 L1995.4,1451.8 L1995.8,1453.8 L1996.2,1455.7 L1996.6,1457.7 L1997.1,1459.6 L1997.5,1461.6 L1998.0,1463.5 L1998.4,1465.5 L1998.9,1467.4 L1999.3,1469.4 L1999.8,1471.3 L2000.2,1473.3 L2000.6,1475.2 L2001.1,1477.2 L2001.5,1479.1 L2001.9,1481.1 L2002.3,1483.1 L2002.7,1485.0 L2003.0,1487.0 L2003.4,1488.9 L2003.8,1490.9 L2004.2,1492.9 L2004.6,1494.8 L2005.0,1496.8 L2005.4,1498.8 L2005.8,1500.7 L2006.2,1502.7 L2006.6,1504.6 L2007.0,1506.6 L2007.4,1508.5 L2007.8,1510.5 L2008.3,1512.5 L2008.7,1514.4 L2009.1,1516.4 L2009.6,1518.3 L2010.0,1520.3 L2010.5,1522.2 L2010.9,1524.2 L2011.4,1526.1 L2011.9,1528.0 L2012.4,1530.0 L2012.9,1531.9 L2013.4,1533.9 L2013.9,1535.8 L2014.4,1537.7 L2015.0,1539.7 L2015.5,1541.6 L2016.0,1543.5 L2016.5,1545.5 L2017.0,1547.4 L2017.5,1549.3 L2018.0,1551.3 L2018.6,1553.2 L2019.1,1555.1 L2019.6,1557.1 L2020.1,1559.0 L2020.6,1560.9 L2021.1,1562.9 L2021.6,1564.8 L2022.2,1566.7 L2022.7,1568.7 L2023.2,1570.6 L2023.7,1572.5 L2024.3,1574.4 L2024.9,1576.3 L2025.5,1578.2 L2026.1,1580.1 L2026.8,1582.0 L2027.4,1583.9 L2028.0,1585.8 L2028.7,1587.7 L2029.3,1589.6 L2029.9,1591.5 L2030.6,1593.4 L2031.2,1595.3 L2031.9,1597.2 L2032.6,1599.1 L2033.3,1600.9 L2034.1,1602.8 L2034.8,1604.6 L2035.6,1606.5 L2036.4,1608.3 L2037.2,1610.2 L2038.0,1612.0 L2038.8,1613.8 L2039.5,1615.7 L2040.3,1617.5 L2041.2,1619.3 L2042.0,1621.1 L2043.0,1622.9 L2043.9,1624.6 L2045.0,1626.4 L2046.0,1628.1 L2047.1,1629.7 L2048.2,1631.4 L2049.2,1633.1 L2050.3,1634.8 L2051.4,1636.5 L2052.6,1638.1 L2053.8,1639.7 L2055.0,1641.2 L2056.4,1642.7 L2057.8,1644.1 L2059.2,1645.5 L2060.6,1646.9 L2062.1,1648.3 L2063.5,1649.6 L2065.0,1651.0" stroke="#4fc9fd" stroke-width="5.4" stroke-dasharray="5.8 4"/>
<path d="M1592.5,1240.7 L1593.6,1242.3 L1594.8,1244.0 L1595.9,1245.6 L1597.0,1247.3 L1598.2,1248.9 L1599.3,1250.6 L1600.4,1252.2 L1601.6,1253.9 L1602.7,1255.5 L1603.9,1257.1 L1605.1,1258.8 L1606.3,1260.4 L1607.5,1262.0 L1608.7,1263.5 L1609.9,1265.1 L1611.1,1266.7 L1612.4,1268.3 L1613.6,1269.9 L1614.8,1271.4 L1616.1,1273.0 L1617.3,1274.6 L1618.6,1276.1 L1619.9,1277.6 L1621.2,1279.2 L1622.5,1280.7 L1623.8,1282.2 L1625.2,1283.7 L1626.5,1285.1 L1627.8,1286.6 L1629.2,1288.1 L1630.5,1289.6 L1631.8,1291.1 L1633.2,1292.5 L1634.6,1294.0 L1636.1,1295.3 L1637.5,1296.7 L1639.0,1298.0 L1640.5,1299.4 L1642.0,1300.7 L1643.5,1302.0 L1645.0,1303.3 L1646.5,1304.6 L1648.0,1305.9 L1649.6,1307.2 L1651.1,1308.5 L1652.7,1309.8 L1654.2,1311.0 L1655.8,1312.2 L1657.4,1313.5 L1659.0,1314.7 L1660.6,1315.9 L1662.1,1317.1 L1663.7,1318.3 L1665.3,1319.6 L1666.9,1320.7 L1668.6,1321.9 L1670.2,1323.0 L1671.9,1324.2 L1673.5,1325.3 L1675.2,1326.3 L1676.9,1327.4 L1678.6,1328.5 L1680.2,1329.6 L1681.9,1330.7 L1683.6,1331.8 L1685.3,1332.8 L1687.0,1333.8 L1688.8,1334.8 L1690.6,1335.7 L1692.4,1336.5 L1694.2,1337.4 L1696.0,1338.2 L1697.8,1339.1 L1699.6,1339.9 L1701.5,1340.7 L1703.3,1341.5 L1705.1,1342.4 L1706.9,1343.2 L1708.8,1344.0 L1710.6,1344.7 L1712.5,1345.5 L1714.3,1346.2 L1716.2,1346.8 L1718.1,1347.5 L1720.0,1348.1 L1721.9,1348.7 L1723.8,1349.4 L1725.7,1350.0 L1727.6,1350.6 L1729.5,1351.3 L1731.4,1351.9 L1733.3,1352.6" stroke="#85a8b0" stroke-width="5.0" stroke-linecap="round"/>
<path d="M1735.2,1353.3 L1737.0,1354.0 L1738.9,1354.7 L1740.7,1355.5 L1742.6,1356.3 L1744.4,1357.0 L1746.3,1357.8 L1748.1,1358.6 L1750.0,1359.3 L1751.8,1360.1 L1753.6,1360.9 L1755.5,1361.7 L1757.3,1362.5 L1759.1,1363.4 L1760.8,1364.4 L1762.6,1365.3 L1764.3,1366.3 L1766.1,1367.3 L1767.8,1368.4 L1769.5,1369.4 L1771.1,1370.5 L1772.8,1371.6 L1774.5,1372.7 L1776.1,1373.9 L1777.7,1375.0 L1779.4,1376.2 L1781.0,1377.3 L1782.7,1378.5 L1784.3,1379.6 L1785.9,1380.8 L1787.5,1382.0 L1789.1,1383.2 L1790.7,1384.4 L1792.2,1385.7 L1793.7,1387.0 L1795.2,1388.4 L1796.7,1389.7 L1798.2,1391.0 L1799.7,1392.4 L1801.2,1393.7 L1802.6,1395.0 L1804.1,1396.4 L1805.6,1397.7 L1807.1,1399.1 L1808.6,1400.4 L1810.0,1401.8 L1811.4,1403.2 L1812.9,1404.6 L1814.3,1406.0 L1815.7,1407.4 L1817.1,1408.8 L1818.5,1410.2 L1820.0,1411.7 L1821.4,1413.1 L1822.8,1414.5 L1824.2,1415.9 L1825.6,1417.3 L1827.0,1418.8 L1828.4,1420.2 L1829.7,1421.7 L1831.0,1423.2 L1832.3,1424.7 L1833.6,1426.2 L1834.9,1427.8 L1836.2,1429.3 L1837.5,1430.8 L1838.7,1432.4 L1840.0,1433.9 L1841.3,1435.5 L1842.6,1437.0 L1843.9,1438.5 L1845.1,1440.1 L1846.4,1441.6 L1847.7,1443.1 L1849.0,1444.7 L1850.3,1446.2 L1851.5,1447.8 L1852.8,1449.3 L1854.1,1450.8 L1855.4,1452.4 L1856.7,1453.9 L1857.9,1455.4 L1859.2,1457.0 L1860.5,1458.5 L1861.8,1460.0 L1863.1,1461.6 L1864.4,1463.1 L1865.7,1464.6 L1867.0,1466.1 L1868.3,1467.6 L1869.6,1469.1 L1871.0,1470.6 L1872.4,1472.0 L1873.8,1473.4 L1875.2,1474.8 L1876.6,1476.2 L1878.1,1477.7 L1879.5,1479.1 L1880.9,1480.5 L1882.3,1481.9 L1883.7,1483.3" stroke="#85a8b0" stroke-width="5.6" stroke-linecap="round"/>
<path d="M1885.2,1484.6 L1886.7,1485.9 L1888.3,1487.1 L1889.9,1488.1 L1891.7,1489.0 L1893.5,1489.7 L1895.4,1490.4 L1897.3,1491.1 L1899.1,1491.8 L1901.0,1492.4 L1902.9,1493.0 L1904.8,1493.6 L1906.7,1494.0 L1908.7,1494.3 L1910.6,1494.4 L1912.6,1494.3 L1914.6,1494.2 L1916.6,1494.0 L1918.6,1493.8 L1920.5,1493.6 L1922.5,1493.4 L1924.5,1493.1 L1926.4,1492.7 L1928.3,1492.1 L1930.1,1491.4 L1931.9,1490.6 L1933.7,1489.7 L1935.5,1488.7 L1937.2,1487.8 L1939.0,1486.8 L1940.7,1485.9 L1942.5,1484.9 L1944.2,1483.9 L1945.9,1482.9 L1947.6,1481.9 L1949.3,1480.8 L1951.0,1479.7 L1952.6,1478.6 L1954.3,1477.4 L1955.9,1476.3 L1957.6,1475.1 L1959.2,1474.0 L1960.9,1472.9 L1962.5,1471.7 L1964.2,1470.6 L1965.8,1469.5 L1967.5,1468.5 L1969.3,1467.5 L1971.0,1466.5 L1972.8,1465.6 L1974.6,1464.7 L1976.4,1463.8 L1978.2,1463.0 L1980.0,1462.3 L1981.8,1461.8 L1983.6,1461.6 L1985.5,1461.7 L1987.3,1462.0 L1989.2,1462.5 L1991.0,1463.2 L1992.7,1464.1 L1994.3,1465.1 L1995.7,1466.4 L1996.9,1467.8 L1998.1,1469.4 L1999.2,1471.0 L2000.3,1472.7 L2001.3,1474.4 L2002.3,1476.1 L2003.3,1477.9 L2004.2,1479.6 L2005.0,1481.5 L2005.7,1483.3 L2006.4,1485.2 L2007.0,1487.1 L2007.6,1489.0 L2008.2,1490.9 L2008.8,1492.8 L2009.3,1494.7 L2009.9,1496.7 L2010.5,1498.6 L2011.1,1500.5 L2011.6,1502.4 L2012.2,1504.3 L2012.8,1506.2 L2013.3,1508.2 L2013.8,1510.1 L2014.3,1512.0 L2014.8,1514.0 L2015.3,1515.9 L2015.8,1517.8 L2016.3,1519.8 L2016.8,1521.7 L2017.3,1523.7 L2017.8,1525.6 L2018.3,1527.5 L2018.8,1529.5 L2019.4,1531.4 L2019.9,1533.3 L2020.4,1535.3 L2020.9,1537.2 L2021.4,1539.1 L2021.9,1541.1 L2022.4,1543.0 L2023.0,1544.9 L2023.5,1546.9 L2024.0,1548.8 L2024.5,1550.7 L2025.0,1552.7 L2025.5,1554.6 L2026.0,1556.5 L2026.6,1558.5 L2027.1,1560.4 L2027.6,1562.3 L2028.1,1564.3 L2028.6,1566.2 L2029.1,1568.1 L2029.6,1570.1 L2030.2,1572.0 L2030.7,1573.9 L2031.2,1575.9 L2031.7,1577.8 L2032.2,1579.7 L2032.7,1581.7 L2033.2,1583.6 L2033.8,1585.5 L2034.3,1587.5 L2034.8,1589.4 L2035.3,1591.3 L2035.8,1593.3 L2036.4,1595.2 L2036.9,1597.1 L2037.5,1599.0 L2038.1,1600.9 L2038.7,1602.8 L2039.4,1604.7 L2040.0,1606.6 L2040.7,1608.5 L2041.4,1610.4 L2042.1,1612.2 L2042.7,1614.1 L2043.4,1616.0 L2044.1,1617.9 L2044.8,1619.8 L2045.6,1621.6 L2046.4,1623.4 L2047.2,1625.3 L2048.1,1627.1 L2048.9,1628.9 L2049.8,1630.6 L2050.7,1632.4 L2051.6,1634.2 L2052.5,1636.0 L2053.4,1637.8 L2054.4,1639.5 L2055.4,1641.2 L2056.5,1642.9 L2057.6,1644.6 L2058.8,1646.2 L2060.0,1647.7 L2061.3,1649.3 L2062.5,1650.9 L2063.8,1652.4 L2065.0,1654.0" stroke="#85a8b0" stroke-width="6.2" stroke-linecap="round"/>
</g>
<line x1="1692.03" y1="1803.2" x2="1692.03" y2="1798.7" stroke="#000000" stroke-width="2"/>
<line x1="1692.03" y1="1144.4" x2="1692.03" y2="1148.9" stroke="#000000" stroke-width="2"/>
<line x1="1750.19" y1="1803.2" x2="1750.19" y2="1798.7" stroke="#000000" stroke-width="2"/>
<line x1="1750.19" y1="1144.4" x2="1750.19" y2="1148.9" stroke="#000000" stroke-width="2"/>
<line x1="1791.46" y1="1803.2" x2="1791.46" y2="1798.7" stroke="#000000" stroke-width="2"/>
<line x1="1791.46" y1="1144.4" x2="1791.46" y2="1148.9" stroke="#000000" stroke-width="2"/>
<line x1="1823.47" y1="1803.2" x2="1823.47" y2="1798.7" stroke="#000000" stroke-width="2"/>
<line x1="1823.47" y1="1144.4" x2="1823.47" y2="1148.9" stroke="#000000" stroke-width="2"/>
<line x1="1849.62" y1="1803.2" x2="1849.62" y2="1798.7" stroke="#000000" stroke-width="2"/>
<line x1="1849.62" y1="1144.4" x2="1849.62" y2="1148.9" stroke="#000000" stroke-width="2"/>
<line x1="1871.74" y1="1803.2" x2="1871.74" y2="1798.7" stroke="#000000" stroke-width="2"/>
<line x1="1871.74" y1="1144.4" x2="1871.74" y2="1148.9" stroke="#000000" stroke-width="2"/>
<line x1="1890.89" y1="1803.2" x2="1890.89" y2="1798.7" stroke="#000000" stroke-width="2"/>
<line x1="1890.89" y1="1144.4" x2="1890.89" y2="1148.9" stroke="#000000" stroke-width="2"/>
<line x1="1907.79" y1="1803.2" x2="1907.79" y2="1798.7" stroke="#000000" stroke-width="2"/>
<line x1="1907.79" y1="1144.4" x2="1907.79" y2="1148.9" stroke="#000000" stroke-width="2"/>
<line x1="1922.9" y1="1803.2" x2="1922.9" y2="1795.7" stroke="#000000" stroke-width="2"/>
<line x1="1922.9" y1="1144.4" x2="1922.9" y2="1151.9" stroke="#000000" stroke-width="2"/>
<line x1="2022.33" y1="1803.2" x2="2022.33" y2="1798.7" stroke="#000000" stroke-width="2"/>
<line x1="2022.33" y1="1144.4" x2="2022.33" y2="1148.9" stroke="#000000" stroke-width="2"/>
<line x1="1592.2" y1="1418.6" x2="1599.7" y2="1418.6" stroke="#000000" stroke-width="2"/>
<line x1="2057.2" y1="1418.6" x2="2064.7" y2="1418.6" stroke="#000000" stroke-width="2"/>
<line x1="1592.2" y1="1694.6" x2="1599.7" y2="1694.6" stroke="#000000" stroke-width="2"/>
<line x1="2057.2" y1="1694.6" x2="2064.7" y2="1694.6" stroke="#000000" stroke-width="2"/>
<line x1="1592.2" y1="1777.68" x2="1596.7" y2="1777.68" stroke="#000000" stroke-width="2"/>
<line x1="2060.2" y1="1777.68" x2="2064.7" y2="1777.68" stroke="#000000" stroke-width="2"/>
<line x1="1592.2" y1="1755.83" x2="1596.7" y2="1755.83" stroke="#000000" stroke-width="2"/>
<line x1="2060.2" y1="1755.83" x2="2064.7" y2="1755.83" stroke="#000000" stroke-width="2"/>
<line x1="1592.2" y1="1737.35" x2="1596.7" y2="1737.35" stroke="#000000" stroke-width="2"/>
<line x1="2060.2" y1="1737.35" x2="2064.7" y2="1737.35" stroke="#000000" stroke-width="2"/>
<line x1="1592.2" y1="1721.35" x2="1596.7" y2="1721.35" stroke="#000000" stroke-width="2"/>
<line x1="2060.2" y1="1721.35" x2="2064.7" y2="1721.35" stroke="#000000" stroke-width="2"/>
<line x1="1592.2" y1="1707.23" x2="1596.7" y2="1707.23" stroke="#000000" stroke-width="2"/>
<line x1="2060.2" y1="1707.23" x2="2064.7" y2="1707.23" stroke="#000000" stroke-width="2"/>
<line x1="1592.2" y1="1611.52" x2="1596.7" y2="1611.52" stroke="#000000" stroke-width="2"/>
<line x1="2060.2" y1="1611.52" x2="2064.7" y2="1611.52" stroke="#000000" stroke-width="2"/>
<line x1="1592.2" y1="1562.91" x2="1596.7" y2="1562.91" stroke="#000000" stroke-width="2"/>
<line x1="2060.2" y1="1562.91" x2="2064.7" y2="1562.91" stroke="#000000" stroke-width="2"/>
<line x1="1592.2" y1="1528.43" x2="1596.7" y2="1528.43" stroke="#000000" stroke-width="2"/>
<line x1="2060.2" y1="1528.43" x2="2064.7" y2="1528.43" stroke="#000000" stroke-width="2"/>
<line x1="1592.2" y1="1501.68" x2="1596.7" y2="1501.68" stroke="#000000" stroke-width="2"/>
<line x1="2060.2" y1="1501.68" x2="2064.7" y2="1501.68" stroke="#000000" stroke-width="2"/>
<line x1="1592.2" y1="1479.83" x2="1596.7" y2="1479.83" stroke="#000000" stroke-width="2"/>
<line x1="2060.2" y1="1479.83" x2="2064.7" y2="1479.83" stroke="#000000" stroke-width="2"/>
<line x1="1592.2" y1="1461.35" x2="1596.7" y2="1461.35" stroke="#000000" stroke-width="2"/>
<line x1="2060.2" y1="1461.35" x2="2064.7" y2="1461.35" stroke="#000000" stroke-width="2"/>
<line x1="1592.2" y1="1445.35" x2="1596.7" y2="1445.35" stroke="#000000" stroke-width="2"/>
<line x1="2060.2" y1="1445.35" x2="2064.7" y2="1445.35" stroke="#000000" stroke-width="2"/>
<line x1="1592.2" y1="1431.23" x2="1596.7" y2="1431.23" stroke="#000000" stroke-width="2"/>
<line x1="2060.2" y1="1431.23" x2="2064.7" y2="1431.23" stroke="#000000" stroke-width="2"/>
<line x1="1592.2" y1="1335.52" x2="1596.7" y2="1335.52" stroke="#000000" stroke-width="2"/>
<line x1="2060.2" y1="1335.52" x2="2064.7" y2="1335.52" stroke="#000000" stroke-width="2"/>
<line x1="1592.2" y1="1286.91" x2="1596.7" y2="1286.91" stroke="#000000" stroke-width="2"/>
<line x1="2060.2" y1="1286.91" x2="2064.7" y2="1286.91" stroke="#000000" stroke-width="2"/>
<line x1="1592.2" y1="1252.43" x2="1596.7" y2="1252.43" stroke="#000000" stroke-width="2"/>
<line x1="2060.2" y1="1252.43" x2="2064.7" y2="1252.43" stroke="#000000" stroke-width="2"/>
<line x1="1592.2" y1="1225.68" x2="1596.7" y2="1225.68" stroke="#000000" stroke-width="2"/>
<line x1="2060.2" y1="1225.68" x2="2064.7" y2="1225.68" stroke="#000000" stroke-width="2"/>
<line x1="1592.2" y1="1203.83" x2="1596.7" y2="1203.83" stroke="#000000" stroke-width="2"/>
<line x1="2060.2" y1="1203.83" x2="2064.7" y2="1203.83" stroke="#000000" stroke-width="2"/>
<line x1="1592.2" y1="1185.35" x2="1596.7" y2="1185.35" stroke="#000000" stroke-width="2"/>
<line x1="2060.2" y1="1185.35" x2="2064.7" y2="1185.35" stroke="#000000" stroke-width="2"/>
<line x1="1592.2" y1="1169.35" x2="1596.7" y2="1169.35" stroke="#000000" stroke-width="2"/>
<line x1="2060.2" y1="1169.35" x2="2064.7" y2="1169.35" stroke="#000000" stroke-width="2"/>
<line x1="1592.2" y1="1155.23" x2="1596.7" y2="1155.23" stroke="#000000" stroke-width="2"/>
<line x1="2060.2" y1="1155.23" x2="2064.7" y2="1155.23" stroke="#000000" stroke-width="2"/>
<rect x="1592.2" y="1144.4" width="472.5" height="658.8" fill="none" stroke="#000000" stroke-width="2.7"/>
<line x1="178.2" y1="1189.4" x2="293.4" y2="1189.4" stroke="#85a8b0" stroke-width="4.4"/>
<line x1="178.2" y1="1257.3" x2="291" y2="1257.3" stroke="#4fc9fd" stroke-width="4.4" stroke-dasharray="4.4 4.1"/>
<text transform="matrix(0.048106 0 0 0.047318 573.845 38.349)" style="font-family:'Liberation Sans',sans-serif;font-weight:700;font-style:normal;font-size:1000px" fill="#333333">(a)</text>
<text transform="matrix(0.049085 0 0 0.048157 1652.799 38.166)" style="font-family:'Liberation Sans',sans-serif;font-weight:700;font-style:normal;font-size:1000px" fill="#333333">(b)</text>
<text transform="matrix(0.044770 0 0 0.047108 1027.801 1020.595)" style="font-family:'Liberation Sans',sans-serif;font-weight:700;font-style:normal;font-size:1000px" fill="#333333">(c)</text>
<text transform="matrix(0.048760 0 0 0.048997 178.214 127.582)" style="font-family:'Liberation Sans',sans-serif;font-weight:400;font-style:normal;font-size:1000px" fill="#666666">Conductivity</text>
<text transform="matrix(0.051107 0 0 0.048997 454.903 127.582)" style="font-family:'Liberation Sans',sans-serif;font-weight:400;font-style:normal;font-size:1000px" fill="#666666">of</text>
<text transform="matrix(0.039629 0 0 0.048997 508.304 127.582)" style="font-family:'Liberation Sans',sans-serif;font-weight:400;font-style:normal;font-size:1000px" fill="#666666">PFSA</text>
<text transform="matrix(0.050328 0 0 0.048997 623.654 127.582)" style="font-family:'Liberation Sans',sans-serif;font-weight:400;font-style:normal;font-size:1000px" fill="#666666">in</text>
<text transform="matrix(0.045638 0 0 0.048997 672.800 127.582)" style="font-family:'Liberation Sans',sans-serif;font-weight:400;font-style:normal;font-size:1000px" fill="#666666">Water</text>
<text transform="matrix(0.047984 0 0 0.047948 1243.951 127.011)" style="font-family:'Liberation Sans',sans-serif;font-weight:400;font-style:normal;font-size:1000px" fill="#666666">Domain</text>
<text transform="matrix(0.045656 0 0 0.047948 1421.073 127.011)" style="font-family:'Liberation Sans',sans-serif;font-weight:400;font-style:normal;font-size:1000px" fill="#666666">Spacing</text>
<text transform="matrix(0.050859 0 0 0.047948 1597.711 127.011)" style="font-family:'Liberation Sans',sans-serif;font-weight:400;font-style:normal;font-size:1000px" fill="#666666">of</text>
<text transform="matrix(0.039944 0 0 0.047948 1649.879 127.011)" style="font-family:'Liberation Sans',sans-serif;font-weight:400;font-style:normal;font-size:1000px" fill="#666666">PFSA</text>
<text transform="matrix(0.049722 0 0 0.047948 1766.292 127.011)" style="font-family:'Liberation Sans',sans-serif;font-weight:400;font-style:normal;font-size:1000px" fill="#666666">in</text>
<text transform="matrix(0.045562 0 0 0.047948 1815.100 127.011)" style="font-family:'Liberation Sans',sans-serif;font-weight:400;font-style:normal;font-size:1000px" fill="#666666">Water</text>
<text transform="matrix(0.038229 0 0 0.045635 104.405 280.487)" style="font-family:'Liberation Sans',sans-serif;font-weight:400;font-style:normal;font-size:1000px" fill="#231f20">0.1</text>
<text transform="matrix(0.044225 0 0 0.046748 76.518 396.470)" style="font-family:'Liberation Sans',sans-serif;font-weight:400;font-style:normal;font-size:1000px" fill="#231f20">0.08</text>
<text transform="matrix(0.044225 0 0 0.045635 76.518 510.887)" style="font-family:'Liberation Sans',sans-serif;font-weight:400;font-style:normal;font-size:1000px" fill="#231f20">0.06</text>
<text transform="matrix(0.044283 0 0 0.046052 76.516 625.680)" style="font-family:'Liberation Sans',sans-serif;font-weight:400;font-style:normal;font-size:1000px" fill="#231f20">0.04</text>
<text transform="matrix(0.044225 0 0 0.045635 76.518 740.087)" style="font-family:'Liberation Sans',sans-serif;font-weight:400;font-style:normal;font-size:1000px" fill="#231f20">0.02</text>
<text transform="matrix(0.045400 0 0 0.046191 146.081 856.178)" style="font-family:'Liberation Sans',sans-serif;font-weight:400;font-style:normal;font-size:1000px" fill="#231f20">0</text>
<text transform="matrix(0.045600 0 0 0.045635 1193.375 858.087)" style="font-family:'Liberation Sans',sans-serif;font-weight:400;font-style:normal;font-size:1000px" fill="#231f20">0</text>
<text transform="matrix(0.029131 0 0 0.046080 1196.479 752.100)" style="font-family:'Liberation Sans',sans-serif;font-weight:400;font-style:normal;font-size:1000px" fill="#231f20">1</text>
<text transform="matrix(0.046293 0 0 0.046080 1192.730 646.300)" style="font-family:'Liberation Sans',sans-serif;font-weight:400;font-style:normal;font-size:1000px" fill="#231f20">2</text>
<text transform="matrix(0.042942 0 0 0.045496 1194.058 539.289)" style="font-family:'Liberation Sans',sans-serif;font-weight:400;font-style:normal;font-size:1000px" fill="#231f20">3</text>
<text transform="matrix(0.045770 0 0 0.046364 1193.285 433.500)" style="font-family:'Liberation Sans',sans-serif;font-weight:400;font-style:normal;font-size:1000px" fill="#231f20">4</text>
<text transform="matrix(0.042942 0 0 0.045357 1194.058 326.791)" style="font-family:'Liberation Sans',sans-serif;font-weight:400;font-style:normal;font-size:1000px" fill="#231f20">5</text>
<text transform="matrix(0.049493 0 0 0.046748 1192.080 220.870)" style="font-family:'Liberation Sans',sans-serif;font-weight:400;font-style:normal;font-size:1000px" fill="#231f20">6</text>
<text transform="matrix(0.041084 0 0 0.046102 232.316 895.715)" style="font-family:'Liberation Sans',sans-serif;font-weight:400;font-style:normal;font-size:1000px" fill="#4d4d4d">5</text>
<text transform="matrix(0.048883 0 0 0.046102 267.545 895.715)" style="font-family:'Liberation Sans',sans-serif;font-weight:400;font-style:normal;font-size:1000px" fill="#4d4d4d">µm</text>
<text transform="matrix(0.043419 0 0 0.046644 370.486 895.597)" style="font-family:'Liberation Sans',sans-serif;font-weight:400;font-style:normal;font-size:1000px" fill="#4d4d4d">10</text>
<text transform="matrix(0.048883 0 0 0.046644 429.745 895.597)" style="font-family:'Liberation Sans',sans-serif;font-weight:400;font-style:normal;font-size:1000px" fill="#4d4d4d">µm</text>
<text transform="matrix(0.045650 0 0 0.046753 519.160 895.773)" style="font-family:'Liberation Sans',sans-serif;font-weight:400;font-style:normal;font-size:1000px" fill="#4d4d4d">20</text>
<text transform="matrix(0.048806 0 0 0.046753 581.350 895.773)" style="font-family:'Liberation Sans',sans-serif;font-weight:400;font-style:normal;font-size:1000px" fill="#4d4d4d">µm</text>
<text transform="matrix(0.044975 0 0 0.046753 695.295 895.773)" style="font-family:'Liberation Sans',sans-serif;font-weight:400;font-style:normal;font-size:1000px" fill="#4d4d4d">50</text>
<text transform="matrix(0.048729 0 0 0.046753 756.454 895.773)" style="font-family:'Liberation Sans',sans-serif;font-weight:400;font-style:normal;font-size:1000px" fill="#4d4d4d">µm</text>
<text transform="matrix(0.042323 0 0 0.045776 1296.777 894.286)" style="font-family:'Liberation Sans',sans-serif;font-weight:400;font-style:normal;font-size:1000px" fill="#4d4d4d">5</text>
<text transform="matrix(0.049424 0 0 0.045776 1331.611 894.286)" style="font-family:'Liberation Sans',sans-serif;font-weight:400;font-style:normal;font-size:1000px" fill="#4d4d4d">µm</text>
<text transform="matrix(0.046419 0 0 0.045993 1544.424 894.439)" style="font-family:'Liberation Sans',sans-serif;font-weight:400;font-style:normal;font-size:1000px" fill="#4d4d4d">20</text>
<text transform="matrix(0.048188 0 0 0.045993 1606.988 894.439)" style="font-family:'Liberation Sans',sans-serif;font-weight:400;font-style:normal;font-size:1000px" fill="#4d4d4d">µm</text>
<text transform="matrix(0.045827 0 0 0.046427 1726.468 894.744)" style="font-family:'Liberation Sans',sans-serif;font-weight:400;font-style:normal;font-size:1000px" fill="#4d4d4d">50</text>
<text transform="matrix(0.048420 0 0 0.046427 1787.774 894.744)" style="font-family:'Liberation Sans',sans-serif;font-weight:400;font-style:normal;font-size:1000px" fill="#4d4d4d">µm</text>
<text transform="matrix(0.044689 0 0 0.046427 1916.605 894.744)" style="font-family:'Liberation Sans',sans-serif;font-weight:400;font-style:normal;font-size:1000px" fill="#4d4d4d">70</text>
<text transform="matrix(0.048574 0 0 0.046427 1977.064 894.744)" style="font-family:'Liberation Sans',sans-serif;font-weight:400;font-style:normal;font-size:1000px" fill="#4d4d4d">µm</text>
<text transform="matrix(0.047709 0 0 0.050875 60.155 1123.371)" style="font-family:'Liberation Sans',sans-serif;font-weight:700;font-style:normal;font-size:1000px" fill="#666666">5</text>
<text transform="matrix(0.054032 0 0 0.050875 99.123 1123.371)" style="font-family:'Liberation Sans',sans-serif;font-weight:700;font-style:normal;font-size:1000px" fill="#666666">µm</text>
<text transform="matrix(0.052858 0 0 0.051634 573.548 1123.505)" style="font-family:'Liberation Sans',sans-serif;font-weight:700;font-style:normal;font-size:1000px" fill="#666666">20</text>
<text transform="matrix(0.053436 0 0 0.051634 643.560 1123.505)" style="font-family:'Liberation Sans',sans-serif;font-weight:700;font-style:normal;font-size:1000px" fill="#666666">µm</text>
<text transform="matrix(0.051981 0 0 0.051634 1080.188 1123.505)" style="font-family:'Liberation Sans',sans-serif;font-weight:700;font-style:normal;font-size:1000px" fill="#666666">50</text>
<text transform="matrix(0.053138 0 0 0.051634 1149.479 1123.505)" style="font-family:'Liberation Sans',sans-serif;font-weight:700;font-style:normal;font-size:1000px" fill="#666666">µm</text>
<text transform="matrix(0.052473 0 0 0.051092 1599.860 1123.624)" style="font-family:'Liberation Sans',sans-serif;font-weight:700;font-style:normal;font-size:1000px" fill="#666666">70</text>
<text transform="matrix(0.053510 0 0 0.051092 1669.656 1123.624)" style="font-family:'Liberation Sans',sans-serif;font-weight:700;font-style:normal;font-size:1000px" fill="#666666">µm</text>
<text transform="matrix(0.040802 0 0 0.050933 311.562 1200.104)" style="font-family:'Liberation Sans',sans-serif;font-weight:700;font-style:normal;font-size:1000px" fill="#435c66">Annealed</text>
<text transform="matrix(0.040653 0 0 0.050667 312.359 1278.508)" style="font-family:'Liberation Sans',sans-serif;font-weight:700;font-style:normal;font-size:1000px" fill="#7ecbec">Preboiled</text>
<text transform="matrix(0.040142 0 0 0.048800 204.173 1406.638)" style="font-family:'Liberation Sans',sans-serif;font-weight:400;font-style:italic;font-size:1000px" fill="#808080">matrix</text>
<text transform="matrix(0.036420 0 0 0.051467 204.231 1456.296)" style="font-family:'Liberation Sans',sans-serif;font-weight:400;font-style:italic;font-size:1000px" fill="#808080">knee</text>
<text transform="matrix(0.040105 0 0 0.048400 699.873 1361.944)" style="font-family:'Liberation Sans',sans-serif;font-weight:400;font-style:italic;font-size:1000px" fill="#808080">matrix</text>
<text transform="matrix(0.036420 0 0 0.051467 699.931 1411.996)" style="font-family:'Liberation Sans',sans-serif;font-weight:400;font-style:italic;font-size:1000px" fill="#808080">knee</text>
<text transform="matrix(0.040178 0 0 0.048267 1242.372 1278.446)" style="font-family:'Liberation Sans',sans-serif;font-weight:400;font-style:italic;font-size:1000px" fill="#808080">matrix</text>
<text transform="matrix(0.036561 0 0 0.050800 1242.429 1328.306)" style="font-family:'Liberation Sans',sans-serif;font-weight:400;font-style:italic;font-size:1000px" fill="#808080">knee</text>
<text transform="matrix(0.040215 0 0 0.048800 1662.372 1200.138)" style="font-family:'Liberation Sans',sans-serif;font-weight:400;font-style:italic;font-size:1000px" fill="#808080">matrix</text>
<text transform="matrix(0.036561 0 0 0.050933 1662.429 1249.904)" style="font-family:'Liberation Sans',sans-serif;font-weight:400;font-style:italic;font-size:1000px" fill="#808080">knee</text>
<text transform="matrix(0.038086 0 0 0.048933 1869.505 1253.935)" style="font-family:'Liberation Sans',sans-serif;font-weight:400;font-style:italic;font-size:1000px" fill="#808080">ionomer</text>
<text transform="matrix(0.036856 0 0 0.051305 1869.152 1303.877)" style="font-family:'Liberation Sans',sans-serif;font-weight:400;font-style:italic;font-size:1000px" fill="#808080">peak</text>
<text transform="matrix(0.041397 0 0 0.045913 14.706 1854.883)" style="font-family:'Liberation Sans',sans-serif;font-weight:400;font-style:normal;font-size:1000px" fill="#231f20">0.01</text>
<text transform="matrix(0.039443 0 0 0.046052 353.367 1854.780)" style="font-family:'Liberation Sans',sans-serif;font-weight:400;font-style:normal;font-size:1000px" fill="#231f20">0.1</text>
<text transform="matrix(0.041397 0 0 0.045913 527.206 1854.883)" style="font-family:'Liberation Sans',sans-serif;font-weight:400;font-style:normal;font-size:1000px" fill="#231f20">0.01</text>
<text transform="matrix(0.039443 0 0 0.046052 865.867 1854.780)" style="font-family:'Liberation Sans',sans-serif;font-weight:400;font-style:normal;font-size:1000px" fill="#231f20">0.1</text>
<text transform="matrix(0.041397 0 0 0.045913 1040.706 1854.883)" style="font-family:'Liberation Sans',sans-serif;font-weight:400;font-style:normal;font-size:1000px" fill="#231f20">0.01</text>
<text transform="matrix(0.039443 0 0 0.046052 1380.167 1854.780)" style="font-family:'Liberation Sans',sans-serif;font-weight:400;font-style:normal;font-size:1000px" fill="#231f20">0.1</text>
<text transform="matrix(0.041397 0 0 0.045913 1554.706 1854.883)" style="font-family:'Liberation Sans',sans-serif;font-weight:400;font-style:normal;font-size:1000px" fill="#231f20">0.01</text>
<text transform="matrix(0.039443 0 0 0.046052 1893.367 1854.780)" style="font-family:'Liberation Sans',sans-serif;font-weight:400;font-style:normal;font-size:1000px" fill="#231f20">0.1</text>
<text transform="matrix(0.055253 0 0 0.052663 209.673 1936.480)" style="font-family:'Liberation Sans',sans-serif;font-weight:400;font-style:normal;font-size:1000px" fill="#231f20">q</text>
<text transform="matrix(0.050769 0 0 0.052663 253.327 1936.480)" style="font-family:'Liberation Sans',sans-serif;font-weight:400;font-style:normal;font-size:1000px" fill="#231f20">[Å]</text>
<text transform="matrix(0.033889 0 0 0.039111 323.641 1910.300)" style="font-family:'Liberation Sans',sans-serif;font-weight:400;font-style:normal;font-size:1000px" fill="#231f20">-1</text>
<text transform="matrix(0.055253 0 0 0.052663 731.573 1936.480)" style="font-family:'Liberation Sans',sans-serif;font-weight:400;font-style:normal;font-size:1000px" fill="#231f20">q</text>
<text transform="matrix(0.051041 0 0 0.052663 775.210 1936.480)" style="font-family:'Liberation Sans',sans-serif;font-weight:400;font-style:normal;font-size:1000px" fill="#231f20">[Å]</text>
<text transform="matrix(0.032176 0 0 0.039111 845.895 1910.300)" style="font-family:'Liberation Sans',sans-serif;font-weight:400;font-style:normal;font-size:1000px" fill="#231f20">-1</text>
<text transform="matrix(0.055253 0 0 0.052663 1244.173 1936.480)" style="font-family:'Liberation Sans',sans-serif;font-weight:400;font-style:normal;font-size:1000px" fill="#231f20">q</text>
<text transform="matrix(0.051041 0 0 0.052663 1287.810 1936.480)" style="font-family:'Liberation Sans',sans-serif;font-weight:400;font-style:normal;font-size:1000px" fill="#231f20">[Å]</text>
<text transform="matrix(0.033277 0 0 0.039111 1358.460 1910.300)" style="font-family:'Liberation Sans',sans-serif;font-weight:400;font-style:normal;font-size:1000px" fill="#231f20">-1</text>
<text transform="matrix(0.055253 0 0 0.052663 1756.373 1936.480)" style="font-family:'Liberation Sans',sans-serif;font-weight:400;font-style:normal;font-size:1000px" fill="#231f20">q</text>
<text transform="matrix(0.050315 0 0 0.052663 1800.055 1936.480)" style="font-family:'Liberation Sans',sans-serif;font-weight:400;font-style:normal;font-size:1000px" fill="#231f20">[Å]</text>
<text transform="matrix(0.032910 0 0 0.039111 1869.872 1910.300)" style="font-family:'Liberation Sans',sans-serif;font-weight:400;font-style:normal;font-size:1000px" fill="#231f20">-1</text>
<text transform="matrix(0 -0.049197 0.048157 0 47.466 735.506)" style="font-family:'Liberation Sans',sans-serif;font-weight:400;font-style:normal;font-size:1000px" fill="#231f20">Conductivity,</text>
<text transform="matrix(0 -0.055040 0.049707 0 48.400 434.420)" style="font-family:'Liberation Serif',sans-serif;font-weight:400;font-style:italic;font-size:1000px" fill="#231f20">κ</text>
<text transform="matrix(0 -0.046572 0.042387 0 44.028 393.311)" style="font-family:'Liberation Sans',sans-serif;font-weight:400;font-style:normal;font-size:1000px" fill="#231f20">[S/cm]</text>
<text transform="matrix(0 -0.040824 0.051333 0 268.398 551.138)" style="font-family:'Liberation Sans',sans-serif;font-weight:700;font-style:normal;font-size:1000px" fill="#435c66">Annealed</text>
<text transform="matrix(0 -0.040856 0.051200 0 329.200 406.554)" style="font-family:'Liberation Sans',sans-serif;font-weight:700;font-style:normal;font-size:1000px" fill="#7ecbec">Preboiled</text>
<text transform="matrix(0 -0.047773 0.047633 0 1131.680 775.432)" style="font-family:'Liberation Sans',sans-serif;font-weight:400;font-style:normal;font-size:1000px" fill="#231f20">Domain</text>
<text transform="matrix(0 -0.045356 0.047633 0 1131.680 598.917)" style="font-family:'Liberation Sans',sans-serif;font-weight:400;font-style:normal;font-size:1000px" fill="#231f20">Spacing,</text>
<text transform="matrix(0 -0.047147 0.047633 0 1131.680 411.973)" style="font-family:'Liberation Sans',sans-serif;font-weight:400;font-style:normal;font-size:1000px" fill="#231f20">d</text>
<text transform="matrix(0 -0.036933 0.035765 0 1149.900 380.223)" style="font-family:'Liberation Sans',sans-serif;font-weight:400;font-style:normal;font-size:1000px" fill="#231f20">w</text>
<text transform="matrix(0 -0.049034 0.042177 0 1128.574 329.065)" style="font-family:'Liberation Sans',sans-serif;font-weight:400;font-style:normal;font-size:1000px" fill="#231f20">[nm]</text>
<text transform="matrix(0 -0.048637 0.044695 0 36.223 1592.700)" style="font-family:'Liberation Sans',sans-serif;font-weight:400;font-style:normal;font-size:1000px" fill="#231f20">Intensity,</text>
<text transform="matrix(0 -0.044232 0.044695 0 36.223 1392.282)" style="font-family:'Liberation Sans',sans-serif;font-weight:400;font-style:normal;font-size:1000px" fill="#231f20">a.u.</text>
</svg></body></html>
